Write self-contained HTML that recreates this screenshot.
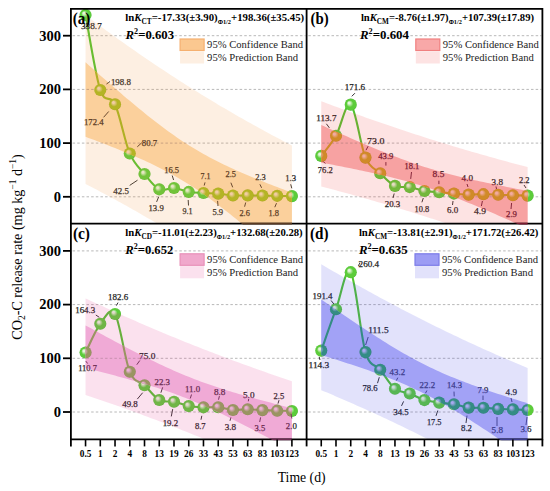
<!DOCTYPE html><html><head><meta charset="utf-8"><style>
html,body{margin:0;padding:0;background:#fff;}
svg{display:block;}
text{font-family:"Liberation Serif",serif;}
</style></head><body>
<svg width="550" height="491" viewBox="0 0 550 491">
<defs>
<radialGradient id="gball" cx="0.5" cy="0.5" r="0.5" fx="0.34" fy="0.33"><stop offset="0" stop-color="#e4f6da"/><stop offset="0.16" stop-color="#e4f6da"/><stop offset="0.56" stop-color="#5ccc3a"/><stop offset="0.9" stop-color="#5ccc3a"/><stop offset="1" stop-color="#46b82a"/></radialGradient>
<radialGradient id="balla" cx="0.5" cy="0.5" r="0.5" fx="0.34" fy="0.33"><stop offset="0" stop-color="#f2cca4"/><stop offset="0.16" stop-color="#f2cca4"/><stop offset="0.56" stop-color="#b4b424"/><stop offset="0.9" stop-color="#b4b424"/><stop offset="1" stop-color="#a8a41c"/></radialGradient>
<radialGradient id="ballb" cx="0.5" cy="0.5" r="0.5" fx="0.34" fy="0.33"><stop offset="0" stop-color="#f2aaa2"/><stop offset="0.16" stop-color="#f2aaa2"/><stop offset="0.56" stop-color="#d08a28"/><stop offset="0.9" stop-color="#d08a28"/><stop offset="1" stop-color="#c07a20"/></radialGradient>
<radialGradient id="ballc" cx="0.5" cy="0.5" r="0.5" fx="0.34" fy="0.33"><stop offset="0" stop-color="#ecaed6"/><stop offset="0.16" stop-color="#ecaed6"/><stop offset="0.56" stop-color="#9a9462"/><stop offset="0.9" stop-color="#9a9462"/><stop offset="1" stop-color="#8a8656"/></radialGradient>
<radialGradient id="balld" cx="0.5" cy="0.5" r="0.5" fx="0.34" fy="0.33"><stop offset="0" stop-color="#a8a8f0"/><stop offset="0.16" stop-color="#a8a8f0"/><stop offset="0.56" stop-color="#348c84"/><stop offset="0.9" stop-color="#348c84"/><stop offset="1" stop-color="#2c7c76"/></radialGradient>
<clipPath id="framea"><rect x="70.9" y="8.9" width="235.70000000000002" height="214.79999999999998"/></clipPath>
<clipPath id="confa"><path d="M85.55,62.37 L88.50,65.00 L91.45,67.62 L94.39,70.23 L97.34,72.84 L100.29,75.44 L103.24,78.03 L106.19,80.61 L109.13,83.19 L112.08,85.75 L115.03,88.30 L117.98,90.84 L120.93,93.37 L123.87,95.88 L126.82,98.38 L129.77,100.87 L132.72,103.33 L135.67,105.78 L138.61,108.21 L141.56,110.62 L144.51,113.01 L147.46,115.38 L150.41,117.72 L153.35,120.03 L156.30,122.32 L159.25,124.58 L162.20,126.80 L165.15,128.99 L168.09,131.15 L171.04,133.27 L173.99,135.36 L176.94,137.40 L179.89,139.41 L182.83,141.38 L185.78,143.30 L188.73,145.18 L191.68,147.02 L194.63,148.82 L197.57,150.58 L200.52,152.29 L203.47,153.97 L206.42,155.61 L209.37,157.21 L212.31,158.77 L215.26,160.30 L218.21,161.80 L221.16,163.27 L224.11,164.70 L227.05,166.11 L230.00,167.49 L232.95,168.85 L235.90,170.18 L238.85,171.50 L241.79,172.79 L244.74,174.06 L247.69,175.32 L250.64,176.55 L253.59,177.78 L256.53,178.99 L259.48,180.18 L262.43,181.36 L265.38,182.53 L268.33,183.69 L271.27,184.84 L274.22,185.98 L277.17,187.11 L280.12,188.24 L283.07,189.35 L286.01,190.46 L288.96,191.56 L291.91,192.66 L291.91,267.09 L288.96,264.46 L286.01,261.84 L283.07,259.23 L280.12,256.62 L277.17,254.02 L274.22,251.43 L271.27,248.85 L268.33,246.27 L265.38,243.71 L262.43,241.16 L259.48,238.62 L256.53,236.09 L253.59,233.58 L250.64,231.08 L247.69,228.59 L244.74,226.13 L241.79,223.68 L238.85,221.25 L235.90,218.84 L232.95,216.45 L230.00,214.08 L227.05,211.74 L224.11,209.43 L221.16,207.14 L218.21,204.88 L215.26,202.66 L212.31,200.47 L209.37,198.31 L206.42,196.19 L203.47,194.10 L200.52,192.06 L197.57,190.05 L194.63,188.08 L191.68,186.16 L188.73,184.28 L185.78,182.44 L182.83,180.64 L179.89,178.88 L176.94,177.17 L173.99,175.49 L171.04,173.85 L168.09,172.25 L165.15,170.69 L162.20,169.16 L159.25,167.66 L156.30,166.19 L153.35,164.76 L150.41,163.35 L147.46,161.97 L144.51,160.61 L141.56,159.28 L138.61,157.96 L135.67,156.67 L132.72,155.40 L129.77,154.15 L126.82,152.91 L123.87,151.68 L120.93,150.48 L117.98,149.28 L115.03,148.10 L112.08,146.93 L109.13,145.77 L106.19,144.62 L103.24,143.48 L100.29,142.35 L97.34,141.22 L94.39,140.11 L91.45,139.00 L88.50,137.90 L85.55,136.81 Z"/></clipPath>
<clipPath id="frameb"><rect x="306.6" y="8.9" width="235.79999999999995" height="214.79999999999998"/></clipPath>
<clipPath id="confb"><path d="M321.25,125.04 L324.20,126.36 L327.15,127.69 L330.09,129.01 L333.04,130.33 L335.99,131.64 L338.94,132.95 L341.89,134.26 L344.83,135.56 L347.78,136.85 L350.73,138.14 L353.68,139.43 L356.63,140.70 L359.57,141.97 L362.52,143.24 L365.47,144.49 L368.42,145.74 L371.37,146.98 L374.31,148.21 L377.26,149.42 L380.21,150.63 L383.16,151.83 L386.11,153.01 L389.05,154.18 L392.00,155.33 L394.95,156.48 L397.90,157.60 L400.85,158.71 L403.79,159.80 L406.74,160.87 L409.69,161.93 L412.64,162.96 L415.59,163.97 L418.53,164.97 L421.48,165.94 L424.43,166.89 L427.38,167.82 L430.33,168.73 L433.27,169.62 L436.22,170.49 L439.17,171.33 L442.12,172.16 L445.07,172.97 L448.01,173.76 L450.96,174.53 L453.91,175.29 L456.86,176.03 L459.81,176.76 L462.75,177.47 L465.70,178.17 L468.65,178.86 L471.60,179.53 L474.55,180.19 L477.49,180.85 L480.44,181.49 L483.39,182.12 L486.34,182.75 L489.29,183.37 L492.23,183.98 L495.18,184.58 L498.13,185.18 L501.08,185.77 L504.03,186.36 L506.97,186.94 L509.92,187.52 L512.87,188.09 L515.82,188.66 L518.77,189.22 L521.71,189.78 L524.66,190.34 L527.61,190.89 L527.61,228.49 L524.66,227.17 L521.71,225.84 L518.77,224.52 L515.82,223.20 L512.87,221.89 L509.92,220.58 L506.97,219.27 L504.03,217.97 L501.08,216.68 L498.13,215.39 L495.18,214.10 L492.23,212.83 L489.29,211.56 L486.34,210.29 L483.39,209.04 L480.44,207.79 L477.49,206.55 L474.55,205.32 L471.60,204.11 L468.65,202.90 L465.70,201.70 L462.75,200.52 L459.81,199.35 L456.86,198.19 L453.91,197.05 L450.96,195.93 L448.01,194.82 L445.07,193.73 L442.12,192.66 L439.17,191.60 L436.22,190.57 L433.27,189.56 L430.33,188.56 L427.38,187.59 L424.43,186.64 L421.48,185.71 L418.53,184.80 L415.59,183.91 L412.64,183.04 L409.69,182.20 L406.74,181.37 L403.79,180.56 L400.85,179.77 L397.90,178.99 L394.95,178.24 L392.00,177.50 L389.05,176.77 L386.11,176.06 L383.16,175.36 L380.21,174.67 L377.26,174.00 L374.31,173.34 L371.37,172.68 L368.42,172.04 L365.47,171.40 L362.52,170.78 L359.57,170.16 L356.63,169.55 L353.68,168.94 L350.73,168.35 L347.78,167.75 L344.83,167.17 L341.89,166.59 L338.94,166.01 L335.99,165.44 L333.04,164.87 L330.09,164.31 L327.15,163.75 L324.20,163.19 L321.25,162.64 Z"/></clipPath>
<clipPath id="framec"><rect x="70.9" y="223.7" width="235.70000000000002" height="215.7"/></clipPath>
<clipPath id="confc"><path d="M85.55,325.38 L88.50,327.00 L91.45,328.62 L94.39,330.23 L97.34,331.84 L100.29,333.45 L103.24,335.05 L106.19,336.64 L109.13,338.23 L112.08,339.81 L115.03,341.39 L117.98,342.96 L120.93,344.53 L123.87,346.08 L126.82,347.63 L129.77,349.17 L132.72,350.70 L135.67,352.22 L138.61,353.72 L141.56,355.22 L144.51,356.70 L147.46,358.18 L150.41,359.63 L153.35,361.07 L156.30,362.50 L159.25,363.91 L162.20,365.30 L165.15,366.67 L168.09,368.02 L171.04,369.35 L173.99,370.66 L176.94,371.95 L179.89,373.22 L182.83,374.46 L185.78,375.68 L188.73,376.87 L191.68,378.04 L194.63,379.19 L197.57,380.31 L200.52,381.41 L203.47,382.49 L206.42,383.54 L209.37,384.58 L212.31,385.59 L215.26,386.58 L218.21,387.56 L221.16,388.51 L224.11,389.45 L227.05,390.38 L230.00,391.28 L232.95,392.18 L235.90,393.06 L238.85,393.93 L241.79,394.79 L244.74,395.63 L247.69,396.47 L250.64,397.29 L253.59,398.11 L256.53,398.92 L259.48,399.72 L262.43,400.52 L265.38,401.30 L268.33,402.09 L271.27,402.86 L274.22,403.63 L277.17,404.40 L280.12,405.16 L283.07,405.91 L286.01,406.66 L288.96,407.41 L291.91,408.15 L291.91,450.72 L288.96,449.10 L286.01,447.48 L283.07,445.87 L280.12,444.26 L277.17,442.65 L274.22,441.05 L271.27,439.46 L268.33,437.87 L265.38,436.28 L262.43,434.71 L259.48,433.14 L256.53,431.57 L253.59,430.02 L250.64,428.47 L247.69,426.93 L244.74,425.40 L241.79,423.88 L238.85,422.38 L235.90,420.88 L232.95,419.39 L230.00,417.92 L227.05,416.47 L224.11,415.03 L221.16,413.60 L218.21,412.19 L215.26,410.80 L212.31,409.43 L209.37,408.08 L206.42,406.75 L203.47,405.44 L200.52,404.15 L197.57,402.88 L194.63,401.64 L191.68,400.42 L188.73,399.23 L185.78,398.06 L182.83,396.91 L179.89,395.79 L176.94,394.69 L173.99,393.61 L171.04,392.56 L168.09,391.52 L165.15,390.51 L162.20,389.52 L159.25,388.54 L156.30,387.59 L153.35,386.65 L150.41,385.72 L147.46,384.81 L144.51,383.92 L141.56,383.04 L138.61,382.17 L135.67,381.31 L132.72,380.47 L129.77,379.63 L126.82,378.81 L123.87,377.99 L120.93,377.18 L117.98,376.38 L115.03,375.58 L112.08,374.80 L109.13,374.01 L106.19,373.24 L103.24,372.47 L100.29,371.70 L97.34,370.94 L94.39,370.19 L91.45,369.44 L88.50,368.69 L85.55,367.94 Z"/></clipPath>
<clipPath id="framed"><rect x="306.6" y="223.7" width="235.79999999999995" height="215.7"/></clipPath>
<clipPath id="confd"><path d="M321.25,299.43 L324.20,301.49 L327.15,303.54 L330.09,305.58 L333.04,307.62 L335.99,309.66 L338.94,311.69 L341.89,313.71 L344.83,315.72 L347.78,317.73 L350.73,319.73 L353.68,321.72 L356.63,323.70 L359.57,325.67 L362.52,327.62 L365.47,329.57 L368.42,331.51 L371.37,333.43 L374.31,335.34 L377.26,337.23 L380.21,339.11 L383.16,340.97 L386.11,342.81 L389.05,344.63 L392.00,346.43 L394.95,348.21 L397.90,349.96 L400.85,351.69 L403.79,353.40 L406.74,355.08 L409.69,356.73 L412.64,358.35 L415.59,359.94 L418.53,361.50 L421.48,363.03 L424.43,364.53 L427.38,366.00 L430.33,367.43 L433.27,368.84 L436.22,370.21 L439.17,371.56 L442.12,372.88 L445.07,374.16 L448.01,375.43 L450.96,376.66 L453.91,377.87 L456.86,379.06 L459.81,380.23 L462.75,381.37 L465.70,382.50 L468.65,383.60 L471.60,384.69 L474.55,385.77 L477.49,386.83 L480.44,387.87 L483.39,388.90 L486.34,389.92 L489.29,390.93 L492.23,391.92 L495.18,392.91 L498.13,393.89 L501.08,394.85 L504.03,395.81 L506.97,396.77 L509.92,397.71 L512.87,398.65 L515.82,399.58 L518.77,400.51 L521.71,401.43 L524.66,402.34 L527.61,403.26 L527.61,458.80 L524.66,456.74 L521.71,454.69 L518.77,452.65 L515.82,450.61 L512.87,448.57 L509.92,446.54 L506.97,444.52 L504.03,442.51 L501.08,440.50 L498.13,438.50 L495.18,436.51 L492.23,434.53 L489.29,432.56 L486.34,430.60 L483.39,428.66 L480.44,426.72 L477.49,424.80 L474.55,422.89 L471.60,421.00 L468.65,419.12 L465.70,417.26 L462.75,415.42 L459.81,413.60 L456.86,411.80 L453.91,410.02 L450.96,408.26 L448.01,406.53 L445.07,404.83 L442.12,403.15 L439.17,401.50 L436.22,399.88 L433.27,398.29 L430.33,396.73 L427.38,395.20 L424.43,393.70 L421.48,392.23 L418.53,390.80 L415.59,389.39 L412.64,388.02 L409.69,386.67 L406.74,385.35 L403.79,384.06 L400.85,382.80 L397.90,381.57 L394.95,380.36 L392.00,379.17 L389.05,378.00 L386.11,376.86 L383.16,375.73 L380.21,374.62 L377.26,373.53 L374.31,372.46 L371.37,371.40 L368.42,370.36 L365.47,369.33 L362.52,368.31 L359.57,367.30 L356.63,366.31 L353.68,365.32 L350.73,364.34 L347.78,363.38 L344.83,362.42 L341.89,361.46 L338.94,360.52 L335.99,359.58 L333.04,358.65 L330.09,357.72 L327.15,356.80 L324.20,355.88 L321.25,354.97 Z"/></clipPath>
</defs>
<rect width="550" height="491" fill="#fff"/>
<line x1="71.9" y1="196.80" x2="305.6" y2="196.80" stroke="#b8b8b8" stroke-width="1" stroke-dasharray="2.5 2.14" stroke-dashoffset="-0.7"/>
<line x1="71.9" y1="143.10" x2="305.6" y2="143.10" stroke="#b8b8b8" stroke-width="1" stroke-dasharray="2.5 2.14" stroke-dashoffset="-0.7"/>
<line x1="71.9" y1="89.40" x2="305.6" y2="89.40" stroke="#b8b8b8" stroke-width="1" stroke-dasharray="2.5 2.14" stroke-dashoffset="-0.7"/>
<line x1="71.9" y1="35.70" x2="305.6" y2="35.70" stroke="#b8b8b8" stroke-width="1" stroke-dasharray="2.5 2.14" stroke-dashoffset="-0.7"/>
<path d="M85.55,14.92 C88.01,27.44 95.38,75.16 100.29,90.04 C105.20,104.93 110.12,93.65 115.03,104.22 C119.94,114.79 124.86,141.84 129.77,153.46 C134.68,165.09 139.60,168.00 144.51,173.98 C149.42,179.96 154.34,187.01 159.25,189.34 C164.16,191.66 169.08,187.51 173.99,187.94 C178.90,188.37 183.82,191.07 188.73,191.91 C193.64,192.75 198.56,192.70 203.47,192.99 C208.38,193.27 213.30,193.22 218.21,193.63 C223.12,194.04 228.04,195.16 232.95,195.46 C237.86,195.75 242.78,195.39 247.69,195.40 C252.60,195.42 257.52,195.49 262.43,195.56 C267.34,195.64 272.26,195.74 277.17,195.83 C282.08,195.92 289.45,196.06 291.91,196.10" fill="none" stroke="#52c530" stroke-width="2.1"/>
<circle cx="85.55" cy="14.92" r="6.05" fill="url(#gball)"/>
<circle cx="100.29" cy="90.04" r="6.05" fill="url(#gball)"/>
<circle cx="115.03" cy="104.22" r="6.05" fill="url(#gball)"/>
<circle cx="129.77" cy="153.46" r="6.05" fill="url(#gball)"/>
<circle cx="144.51" cy="173.98" r="6.05" fill="url(#gball)"/>
<circle cx="159.25" cy="189.34" r="6.05" fill="url(#gball)"/>
<circle cx="173.99" cy="187.94" r="6.05" fill="url(#gball)"/>
<circle cx="188.73" cy="191.91" r="6.05" fill="url(#gball)"/>
<circle cx="203.47" cy="192.99" r="6.05" fill="url(#gball)"/>
<circle cx="218.21" cy="193.63" r="6.05" fill="url(#gball)"/>
<circle cx="232.95" cy="195.46" r="6.05" fill="url(#gball)"/>
<circle cx="247.69" cy="195.40" r="6.05" fill="url(#gball)"/>
<circle cx="262.43" cy="195.56" r="6.05" fill="url(#gball)"/>
<circle cx="277.17" cy="195.83" r="6.05" fill="url(#gball)"/>
<circle cx="291.91" cy="196.10" r="6.05" fill="url(#gball)"/>
<text x="81" y="29.2" font-size="9.1" fill="#1e1e1e" stroke="#1e1e1e" stroke-width="0.25" textLength="20.8" lengthAdjust="spacingAndGlyphs">338.7</text>
<text x="110.9" y="84.9" font-size="9.1" fill="#1e1e1e" stroke="#1e1e1e" stroke-width="0.25" textLength="20.0" lengthAdjust="spacingAndGlyphs">198.8</text>
<line x1="106.5" y1="84" x2="110" y2="81.5" stroke="#1e1e1e" stroke-width="0.9"/>
<text x="84" y="124.9" font-size="9.1" fill="#1e1e1e" stroke="#1e1e1e" stroke-width="0.25" textLength="19.6" lengthAdjust="spacingAndGlyphs">172.4</text>
<line x1="103.6" y1="117.3" x2="108.7" y2="111.5" stroke="#1e1e1e" stroke-width="0.9"/>
<text x="141.8" y="145.9" font-size="9.1" fill="#1e1e1e" stroke="#1e1e1e" stroke-width="0.25" textLength="15.5" lengthAdjust="spacingAndGlyphs">80.7</text>
<line x1="137.3" y1="146.8" x2="141.8" y2="142.7" stroke="#1e1e1e" stroke-width="0.9"/>
<text x="113.3" y="193.7" font-size="9.1" fill="#1e1e1e" stroke="#1e1e1e" stroke-width="0.25" textLength="15.6" lengthAdjust="spacingAndGlyphs">42.5</text>
<line x1="129.7" y1="185.4" x2="137.5" y2="180.2" stroke="#1e1e1e" stroke-width="0.9"/>
<text x="148.5" y="210.5" font-size="9.1" fill="#1e1e1e" stroke="#1e1e1e" stroke-width="0.25" textLength="15.3" lengthAdjust="spacingAndGlyphs">13.9</text>
<line x1="156.6" y1="201.9" x2="158.7" y2="196.8" stroke="#1e1e1e" stroke-width="0.9"/>
<text x="164.2" y="172.7" font-size="9.1" fill="#1e1e1e" stroke="#1e1e1e" stroke-width="0.25" textLength="14.9" lengthAdjust="spacingAndGlyphs">16.5</text>
<line x1="172.2" y1="175.5" x2="173.6" y2="180" stroke="#1e1e1e" stroke-width="0.9"/>
<text x="182.5" y="214.2" font-size="9.1" fill="#1e1e1e" stroke="#1e1e1e" stroke-width="0.25" textLength="10.2" lengthAdjust="spacingAndGlyphs">9.1</text>
<line x1="188.2" y1="200" x2="188.5" y2="205.5" stroke="#1e1e1e" stroke-width="0.9"/>
<text x="200.5" y="179" font-size="9.1" fill="#1e1e1e" stroke="#1e1e1e" stroke-width="0.25" textLength="10.0" lengthAdjust="spacingAndGlyphs">7.1</text>
<line x1="205" y1="182.4" x2="204.2" y2="185.5" stroke="#1e1e1e" stroke-width="0.9"/>
<text x="212.4" y="215.4" font-size="9.1" fill="#1e1e1e" stroke="#1e1e1e" stroke-width="0.25" textLength="10.8" lengthAdjust="spacingAndGlyphs">5.9</text>
<line x1="217.6" y1="200.9" x2="218" y2="206" stroke="#1e1e1e" stroke-width="0.9"/>
<text x="225.5" y="177.3" font-size="9.1" fill="#1e1e1e" stroke="#1e1e1e" stroke-width="0.25" textLength="10.5" lengthAdjust="spacingAndGlyphs">2.5</text>
<line x1="230.9" y1="182.7" x2="232.7" y2="187.3" stroke="#1e1e1e" stroke-width="0.9"/>
<text x="239.4" y="215.7" font-size="9.1" fill="#1e1e1e" stroke="#1e1e1e" stroke-width="0.25" textLength="10.4" lengthAdjust="spacingAndGlyphs">2.6</text>
<line x1="245.7" y1="202.5" x2="244.6" y2="206.7" stroke="#1e1e1e" stroke-width="0.9"/>
<text x="255.2" y="179.6" font-size="9.1" fill="#1e1e1e" stroke="#1e1e1e" stroke-width="0.25" textLength="10.6" lengthAdjust="spacingAndGlyphs">2.3</text>
<line x1="259.9" y1="184.3" x2="261.6" y2="187.8" stroke="#1e1e1e" stroke-width="0.9"/>
<text x="268.5" y="216" font-size="9.1" fill="#1e1e1e" stroke="#1e1e1e" stroke-width="0.25" textLength="10.5" lengthAdjust="spacingAndGlyphs">1.8</text>
<line x1="276.5" y1="203.2" x2="274.8" y2="207.2" stroke="#1e1e1e" stroke-width="0.9"/>
<text x="285.2" y="181.2" font-size="9.1" fill="#1e1e1e" stroke="#1e1e1e" stroke-width="0.25" textLength="10.9" lengthAdjust="spacingAndGlyphs">1.3</text>
<line x1="290.7" y1="184.3" x2="291.8" y2="188.3" stroke="#1e1e1e" stroke-width="0.9"/>
<g clip-path="url(#framea)">
<path d="M85.55,15.22 L88.50,17.42 L91.45,19.61 L94.39,21.79 L97.34,23.96 L100.29,26.12 L103.24,28.28 L106.19,30.42 L109.13,32.56 L112.08,34.68 L115.03,36.80 L117.98,38.91 L120.93,41.01 L123.87,43.10 L126.82,45.18 L129.77,47.25 L132.72,49.31 L135.67,51.36 L138.61,53.40 L141.56,55.43 L144.51,57.45 L147.46,59.46 L150.41,61.46 L153.35,63.45 L156.30,65.43 L159.25,67.40 L162.20,69.36 L165.15,71.31 L168.09,73.25 L171.04,75.18 L173.99,77.10 L176.94,79.01 L179.89,80.91 L182.83,82.79 L185.78,84.67 L188.73,86.54 L191.68,88.39 L194.63,90.24 L197.57,92.07 L200.52,93.90 L203.47,95.71 L206.42,97.52 L209.37,99.31 L212.31,101.09 L215.26,102.87 L218.21,104.63 L221.16,106.38 L224.11,108.12 L227.05,109.85 L230.00,111.58 L232.95,113.29 L235.90,114.99 L238.85,116.68 L241.79,118.36 L244.74,120.03 L247.69,121.70 L250.64,123.35 L253.59,124.99 L256.53,126.62 L259.48,128.25 L262.43,129.86 L265.38,131.47 L268.33,133.06 L271.27,134.65 L274.22,136.23 L277.17,137.80 L280.12,139.36 L283.07,140.91 L286.01,142.45 L288.96,143.98 L291.91,145.51 L291.91,314.24 L288.96,312.04 L286.01,309.85 L283.07,307.67 L280.12,305.50 L277.17,303.34 L274.22,301.19 L271.27,299.04 L268.33,296.90 L265.38,294.78 L262.43,292.66 L259.48,290.55 L256.53,288.45 L253.59,286.36 L250.64,284.29 L247.69,282.22 L244.74,280.15 L241.79,278.10 L238.85,276.06 L235.90,274.03 L232.95,272.01 L230.00,270.00 L227.05,268.00 L224.11,266.01 L221.16,264.03 L218.21,262.06 L215.26,260.10 L212.31,258.15 L209.37,256.21 L206.42,254.28 L203.47,252.36 L200.52,250.45 L197.57,248.55 L194.63,246.67 L191.68,244.79 L188.73,242.92 L185.78,241.07 L182.83,239.22 L179.89,237.39 L176.94,235.56 L173.99,233.75 L171.04,231.94 L168.09,230.15 L165.15,228.37 L162.20,226.59 L159.25,224.83 L156.30,223.08 L153.35,221.34 L150.41,219.61 L147.46,217.89 L144.51,216.17 L141.56,214.47 L138.61,212.78 L135.67,211.10 L132.72,209.43 L129.77,207.77 L126.82,206.11 L123.87,204.47 L120.93,202.84 L117.98,201.21 L115.03,199.60 L112.08,197.99 L109.13,196.40 L106.19,194.81 L103.24,193.23 L100.29,191.66 L97.34,190.10 L94.39,188.55 L91.45,187.01 L88.50,185.48 L85.55,183.95 Z" fill="rgb(242,148,62)" fill-opacity="0.15"/>
<g clip-path="url(#confa)">
<rect x="0" y="0" width="550" height="491" fill="#fbd09c"/>
<line x1="71.9" y1="196.80" x2="305.6" y2="196.80" stroke="#c8a080" stroke-width="1" stroke-dasharray="2.5 2.14" stroke-dashoffset="-0.7"/>
<line x1="71.9" y1="143.10" x2="305.6" y2="143.10" stroke="#c8a080" stroke-width="1" stroke-dasharray="2.5 2.14" stroke-dashoffset="-0.7"/>
<line x1="71.9" y1="89.40" x2="305.6" y2="89.40" stroke="#c8a080" stroke-width="1" stroke-dasharray="2.5 2.14" stroke-dashoffset="-0.7"/>
<line x1="71.9" y1="35.70" x2="305.6" y2="35.70" stroke="#c8a080" stroke-width="1" stroke-dasharray="2.5 2.14" stroke-dashoffset="-0.7"/>
<path d="M85.55,14.92 C88.01,27.44 95.38,75.16 100.29,90.04 C105.20,104.93 110.12,93.65 115.03,104.22 C119.94,114.79 124.86,141.84 129.77,153.46 C134.68,165.09 139.60,168.00 144.51,173.98 C149.42,179.96 154.34,187.01 159.25,189.34 C164.16,191.66 169.08,187.51 173.99,187.94 C178.90,188.37 183.82,191.07 188.73,191.91 C193.64,192.75 198.56,192.70 203.47,192.99 C208.38,193.27 213.30,193.22 218.21,193.63 C223.12,194.04 228.04,195.16 232.95,195.46 C237.86,195.75 242.78,195.39 247.69,195.40 C252.60,195.42 257.52,195.49 262.43,195.56 C267.34,195.64 272.26,195.74 277.17,195.83 C282.08,195.92 289.45,196.06 291.91,196.10" fill="none" stroke="#b0b024" stroke-width="2.1"/>
<circle cx="85.55" cy="14.92" r="6.05" fill="url(#balla)"/>
<circle cx="100.29" cy="90.04" r="6.05" fill="url(#balla)"/>
<circle cx="115.03" cy="104.22" r="6.05" fill="url(#balla)"/>
<circle cx="129.77" cy="153.46" r="6.05" fill="url(#balla)"/>
<circle cx="144.51" cy="173.98" r="6.05" fill="url(#balla)"/>
<circle cx="159.25" cy="189.34" r="6.05" fill="url(#balla)"/>
<circle cx="173.99" cy="187.94" r="6.05" fill="url(#balla)"/>
<circle cx="188.73" cy="191.91" r="6.05" fill="url(#balla)"/>
<circle cx="203.47" cy="192.99" r="6.05" fill="url(#balla)"/>
<circle cx="218.21" cy="193.63" r="6.05" fill="url(#balla)"/>
<circle cx="232.95" cy="195.46" r="6.05" fill="url(#balla)"/>
<circle cx="247.69" cy="195.40" r="6.05" fill="url(#balla)"/>
<circle cx="262.43" cy="195.56" r="6.05" fill="url(#balla)"/>
<circle cx="277.17" cy="195.83" r="6.05" fill="url(#balla)"/>
<circle cx="291.91" cy="196.10" r="6.05" fill="url(#balla)"/>
<text x="81" y="29.2" font-size="9.1" fill="#5a3a22" stroke="#5a3a22" stroke-width="0.25" textLength="20.8" lengthAdjust="spacingAndGlyphs">338.7</text>
<text x="110.9" y="84.9" font-size="9.1" fill="#5a3a22" stroke="#5a3a22" stroke-width="0.25" textLength="20.0" lengthAdjust="spacingAndGlyphs">198.8</text>
<line x1="106.5" y1="84" x2="110" y2="81.5" stroke="#5a3a22" stroke-width="0.9"/>
<text x="84" y="124.9" font-size="9.1" fill="#5a3a22" stroke="#5a3a22" stroke-width="0.25" textLength="19.6" lengthAdjust="spacingAndGlyphs">172.4</text>
<line x1="103.6" y1="117.3" x2="108.7" y2="111.5" stroke="#5a3a22" stroke-width="0.9"/>
<text x="141.8" y="145.9" font-size="9.1" fill="#5a3a22" stroke="#5a3a22" stroke-width="0.25" textLength="15.5" lengthAdjust="spacingAndGlyphs">80.7</text>
<line x1="137.3" y1="146.8" x2="141.8" y2="142.7" stroke="#5a3a22" stroke-width="0.9"/>
<text x="113.3" y="193.7" font-size="9.1" fill="#5a3a22" stroke="#5a3a22" stroke-width="0.25" textLength="15.6" lengthAdjust="spacingAndGlyphs">42.5</text>
<line x1="129.7" y1="185.4" x2="137.5" y2="180.2" stroke="#5a3a22" stroke-width="0.9"/>
<text x="148.5" y="210.5" font-size="9.1" fill="#5a3a22" stroke="#5a3a22" stroke-width="0.25" textLength="15.3" lengthAdjust="spacingAndGlyphs">13.9</text>
<line x1="156.6" y1="201.9" x2="158.7" y2="196.8" stroke="#5a3a22" stroke-width="0.9"/>
<text x="164.2" y="172.7" font-size="9.1" fill="#5a3a22" stroke="#5a3a22" stroke-width="0.25" textLength="14.9" lengthAdjust="spacingAndGlyphs">16.5</text>
<line x1="172.2" y1="175.5" x2="173.6" y2="180" stroke="#5a3a22" stroke-width="0.9"/>
<text x="182.5" y="214.2" font-size="9.1" fill="#5a3a22" stroke="#5a3a22" stroke-width="0.25" textLength="10.2" lengthAdjust="spacingAndGlyphs">9.1</text>
<line x1="188.2" y1="200" x2="188.5" y2="205.5" stroke="#5a3a22" stroke-width="0.9"/>
<text x="200.5" y="179" font-size="9.1" fill="#5a3a22" stroke="#5a3a22" stroke-width="0.25" textLength="10.0" lengthAdjust="spacingAndGlyphs">7.1</text>
<line x1="205" y1="182.4" x2="204.2" y2="185.5" stroke="#5a3a22" stroke-width="0.9"/>
<text x="212.4" y="215.4" font-size="9.1" fill="#5a3a22" stroke="#5a3a22" stroke-width="0.25" textLength="10.8" lengthAdjust="spacingAndGlyphs">5.9</text>
<line x1="217.6" y1="200.9" x2="218" y2="206" stroke="#5a3a22" stroke-width="0.9"/>
<text x="225.5" y="177.3" font-size="9.1" fill="#5a3a22" stroke="#5a3a22" stroke-width="0.25" textLength="10.5" lengthAdjust="spacingAndGlyphs">2.5</text>
<line x1="230.9" y1="182.7" x2="232.7" y2="187.3" stroke="#5a3a22" stroke-width="0.9"/>
<text x="239.4" y="215.7" font-size="9.1" fill="#5a3a22" stroke="#5a3a22" stroke-width="0.25" textLength="10.4" lengthAdjust="spacingAndGlyphs">2.6</text>
<line x1="245.7" y1="202.5" x2="244.6" y2="206.7" stroke="#5a3a22" stroke-width="0.9"/>
<text x="255.2" y="179.6" font-size="9.1" fill="#5a3a22" stroke="#5a3a22" stroke-width="0.25" textLength="10.6" lengthAdjust="spacingAndGlyphs">2.3</text>
<line x1="259.9" y1="184.3" x2="261.6" y2="187.8" stroke="#5a3a22" stroke-width="0.9"/>
<text x="268.5" y="216" font-size="9.1" fill="#5a3a22" stroke="#5a3a22" stroke-width="0.25" textLength="10.5" lengthAdjust="spacingAndGlyphs">1.8</text>
<line x1="276.5" y1="203.2" x2="274.8" y2="207.2" stroke="#5a3a22" stroke-width="0.9"/>
<text x="285.2" y="181.2" font-size="9.1" fill="#5a3a22" stroke="#5a3a22" stroke-width="0.25" textLength="10.9" lengthAdjust="spacingAndGlyphs">1.3</text>
<line x1="290.7" y1="184.3" x2="291.8" y2="188.3" stroke="#5a3a22" stroke-width="0.9"/>
</g></g>
<line x1="307.6" y1="196.80" x2="541.4" y2="196.80" stroke="#b8b8b8" stroke-width="1" stroke-dasharray="2.5 2.14" stroke-dashoffset="-0.7"/>
<line x1="307.6" y1="143.10" x2="541.4" y2="143.10" stroke="#b8b8b8" stroke-width="1" stroke-dasharray="2.5 2.14" stroke-dashoffset="-0.7"/>
<line x1="307.6" y1="89.40" x2="541.4" y2="89.40" stroke="#b8b8b8" stroke-width="1" stroke-dasharray="2.5 2.14" stroke-dashoffset="-0.7"/>
<line x1="307.6" y1="35.70" x2="541.4" y2="35.70" stroke="#b8b8b8" stroke-width="1" stroke-dasharray="2.5 2.14" stroke-dashoffset="-0.7"/>
<path d="M321.25,155.88 C323.71,152.52 331.08,144.28 335.99,135.74 C340.90,127.20 345.82,101.01 350.73,104.65 C355.64,108.29 360.56,146.17 365.47,157.60 C370.38,169.03 375.30,168.51 380.21,173.23 C385.12,177.94 390.04,183.59 394.95,185.90 C399.86,188.21 404.78,186.23 409.69,187.08 C414.60,187.93 419.52,190.14 424.43,191.00 C429.34,191.86 434.26,191.81 439.17,192.24 C444.08,192.67 449.00,193.18 453.91,193.58 C458.82,193.98 463.74,194.55 468.65,194.65 C473.56,194.75 478.48,194.15 483.39,194.17 C488.30,194.19 493.22,194.58 498.13,194.76 C503.04,194.94 507.96,195.10 512.87,195.24 C517.78,195.39 525.15,195.56 527.61,195.62" fill="none" stroke="#52c530" stroke-width="2.1"/>
<circle cx="321.25" cy="155.88" r="6.05" fill="url(#gball)"/>
<circle cx="335.99" cy="135.74" r="6.05" fill="url(#gball)"/>
<circle cx="350.73" cy="104.65" r="6.05" fill="url(#gball)"/>
<circle cx="365.47" cy="157.60" r="6.05" fill="url(#gball)"/>
<circle cx="380.21" cy="173.23" r="6.05" fill="url(#gball)"/>
<circle cx="394.95" cy="185.90" r="6.05" fill="url(#gball)"/>
<circle cx="409.69" cy="187.08" r="6.05" fill="url(#gball)"/>
<circle cx="424.43" cy="191.00" r="6.05" fill="url(#gball)"/>
<circle cx="439.17" cy="192.24" r="6.05" fill="url(#gball)"/>
<circle cx="453.91" cy="193.58" r="6.05" fill="url(#gball)"/>
<circle cx="468.65" cy="194.65" r="6.05" fill="url(#gball)"/>
<circle cx="483.39" cy="194.17" r="6.05" fill="url(#gball)"/>
<circle cx="498.13" cy="194.76" r="6.05" fill="url(#gball)"/>
<circle cx="512.87" cy="195.24" r="6.05" fill="url(#gball)"/>
<circle cx="527.61" cy="195.62" r="6.05" fill="url(#gball)"/>
<text x="317.8" y="172.7" font-size="9.1" fill="#1e1e1e" stroke="#1e1e1e" stroke-width="0.25" textLength="15.1" lengthAdjust="spacingAndGlyphs">76.2</text>
<line x1="323.3" y1="161.5" x2="325.3" y2="163.5" stroke="#1e1e1e" stroke-width="0.9"/>
<text x="316.2" y="120.7" font-size="9.1" fill="#1e1e1e" stroke="#1e1e1e" stroke-width="0.25" textLength="20.3" lengthAdjust="spacingAndGlyphs">113.7</text>
<line x1="326.4" y1="123.8" x2="329.4" y2="127.9" stroke="#1e1e1e" stroke-width="0.9"/>
<text x="344.7" y="90.2" font-size="9.1" fill="#1e1e1e" stroke="#1e1e1e" stroke-width="0.25" textLength="20.3" lengthAdjust="spacingAndGlyphs">171.6</text>
<line x1="351.8" y1="96.3" x2="354.9" y2="93.2" stroke="#1e1e1e" stroke-width="0.9"/>
<text x="367.1" y="143.5" font-size="9.1" fill="#1e1e1e" stroke="#1e1e1e" stroke-width="0.25" textLength="17.3" lengthAdjust="spacingAndGlyphs">73.0</text>
<line x1="366" y1="150.2" x2="368.1" y2="146.2" stroke="#1e1e1e" stroke-width="0.9"/>
<text x="378.3" y="159.4" font-size="9.1" fill="#1e1e1e" stroke="#1e1e1e" stroke-width="0.25" textLength="15.1" lengthAdjust="spacingAndGlyphs">43.9</text>
<line x1="385.9" y1="162.1" x2="385.9" y2="165.6" stroke="#1e1e1e" stroke-width="0.9"/>
<text x="384.7" y="206.6" font-size="9.1" fill="#1e1e1e" stroke="#1e1e1e" stroke-width="0.25" textLength="15.6" lengthAdjust="spacingAndGlyphs">20.3</text>
<line x1="394.2" y1="193.5" x2="393" y2="198" stroke="#1e1e1e" stroke-width="0.9"/>
<text x="404.6" y="168.5" font-size="9.1" fill="#1e1e1e" stroke="#1e1e1e" stroke-width="0.25" textLength="14.7" lengthAdjust="spacingAndGlyphs">18.1</text>
<line x1="411.5" y1="172" x2="410.7" y2="178.9" stroke="#1e1e1e" stroke-width="0.9"/>
<text x="414.6" y="211.8" font-size="9.1" fill="#1e1e1e" stroke="#1e1e1e" stroke-width="0.25" textLength="14.6" lengthAdjust="spacingAndGlyphs">10.8</text>
<line x1="423.3" y1="198" x2="421.9" y2="202.3" stroke="#1e1e1e" stroke-width="0.9"/>
<text x="432.6" y="177.2" font-size="9.1" fill="#1e1e1e" stroke="#1e1e1e" stroke-width="0.25" textLength="11.8" lengthAdjust="spacingAndGlyphs">8.5</text>
<line x1="438.9" y1="180.7" x2="438.9" y2="184.1" stroke="#1e1e1e" stroke-width="0.9"/>
<text x="447" y="213" font-size="9.1" fill="#1e1e1e" stroke="#1e1e1e" stroke-width="0.25" textLength="11.2" lengthAdjust="spacingAndGlyphs">6.0</text>
<line x1="453" y1="201" x2="452.5" y2="205" stroke="#1e1e1e" stroke-width="0.9"/>
<text x="461.6" y="181" font-size="9.1" fill="#1e1e1e" stroke="#1e1e1e" stroke-width="0.25" textLength="11.4" lengthAdjust="spacingAndGlyphs">4.0</text>
<line x1="467" y1="184" x2="468" y2="187" stroke="#1e1e1e" stroke-width="0.9"/>
<text x="474" y="214.4" font-size="9.1" fill="#1e1e1e" stroke="#1e1e1e" stroke-width="0.25" textLength="12.0" lengthAdjust="spacingAndGlyphs">4.9</text>
<line x1="482.4" y1="201" x2="481.4" y2="206" stroke="#1e1e1e" stroke-width="0.9"/>
<text x="491.6" y="185" font-size="9.1" fill="#1e1e1e" stroke="#1e1e1e" stroke-width="0.25" textLength="11.4" lengthAdjust="spacingAndGlyphs">3.8</text>
<line x1="496" y1="186.5" x2="496.5" y2="189" stroke="#1e1e1e" stroke-width="0.9"/>
<text x="506" y="217" font-size="9.1" fill="#1e1e1e" stroke="#1e1e1e" stroke-width="0.25" textLength="11.0" lengthAdjust="spacingAndGlyphs">2.9</text>
<line x1="511.6" y1="203" x2="511" y2="209" stroke="#1e1e1e" stroke-width="0.9"/>
<text x="519" y="183.3" font-size="9.1" fill="#1e1e1e" stroke="#1e1e1e" stroke-width="0.25" textLength="10.6" lengthAdjust="spacingAndGlyphs">2.2</text>
<line x1="524" y1="185" x2="526" y2="188" stroke="#1e1e1e" stroke-width="0.9"/>
<g clip-path="url(#frameb)">
<path d="M321.25,101.22 L324.20,102.33 L327.15,103.44 L330.09,104.54 L333.04,105.64 L335.99,106.73 L338.94,107.82 L341.89,108.90 L344.83,109.98 L347.78,111.06 L350.73,112.13 L353.68,113.19 L356.63,114.25 L359.57,115.31 L362.52,116.36 L365.47,117.41 L368.42,118.45 L371.37,119.48 L374.31,120.52 L377.26,121.54 L380.21,122.56 L383.16,123.58 L386.11,124.59 L389.05,125.60 L392.00,126.60 L394.95,127.60 L397.90,128.59 L400.85,129.57 L403.79,130.55 L406.74,131.53 L409.69,132.50 L412.64,133.46 L415.59,134.42 L418.53,135.37 L421.48,136.32 L424.43,137.27 L427.38,138.21 L430.33,139.14 L433.27,140.07 L436.22,140.99 L439.17,141.91 L442.12,142.82 L445.07,143.72 L448.01,144.62 L450.96,145.52 L453.91,146.41 L456.86,147.30 L459.81,148.18 L462.75,149.05 L465.70,149.92 L468.65,150.79 L471.60,151.65 L474.55,152.50 L477.49,153.35 L480.44,154.20 L483.39,155.04 L486.34,155.87 L489.29,156.71 L492.23,157.53 L495.18,158.35 L498.13,159.17 L501.08,159.98 L504.03,160.79 L506.97,161.59 L509.92,162.39 L512.87,163.18 L515.82,163.97 L518.77,164.75 L521.71,165.53 L524.66,166.31 L527.61,167.08 L527.61,252.31 L524.66,251.20 L521.71,250.09 L518.77,248.99 L515.82,247.89 L512.87,246.80 L509.92,245.71 L506.97,244.63 L504.03,243.55 L501.08,242.47 L498.13,241.40 L495.18,240.34 L492.23,239.28 L489.29,238.22 L486.34,237.17 L483.39,236.12 L480.44,235.08 L477.49,234.04 L474.55,233.01 L471.60,231.99 L468.65,230.96 L465.70,229.95 L462.75,228.94 L459.81,227.93 L456.86,226.93 L453.91,225.93 L450.96,224.94 L448.01,223.96 L445.07,222.98 L442.12,222.00 L439.17,221.03 L436.22,220.07 L433.27,219.11 L430.33,218.15 L427.38,217.21 L424.43,216.26 L421.48,215.32 L418.53,214.39 L415.59,213.46 L412.64,212.54 L409.69,211.62 L406.74,210.71 L403.79,209.81 L400.85,208.90 L397.90,208.01 L394.95,207.12 L392.00,206.23 L389.05,205.35 L386.11,204.48 L383.16,203.61 L380.21,202.74 L377.26,201.88 L374.31,201.03 L371.37,200.17 L368.42,199.33 L365.47,198.49 L362.52,197.65 L359.57,196.82 L356.63,196.00 L353.68,195.18 L350.73,194.36 L347.78,193.55 L344.83,192.74 L341.89,191.94 L338.94,191.14 L335.99,190.35 L333.04,189.56 L330.09,188.78 L327.15,188.00 L324.20,187.22 L321.25,186.45 Z" fill="rgb(242,68,68)" fill-opacity="0.15"/>
<g clip-path="url(#confb)">
<rect x="0" y="0" width="550" height="491" fill="#f7a2a2"/>
<line x1="307.6" y1="196.80" x2="541.4" y2="196.80" stroke="#c88888" stroke-width="1" stroke-dasharray="2.5 2.14" stroke-dashoffset="-0.7"/>
<line x1="307.6" y1="143.10" x2="541.4" y2="143.10" stroke="#c88888" stroke-width="1" stroke-dasharray="2.5 2.14" stroke-dashoffset="-0.7"/>
<line x1="307.6" y1="89.40" x2="541.4" y2="89.40" stroke="#c88888" stroke-width="1" stroke-dasharray="2.5 2.14" stroke-dashoffset="-0.7"/>
<line x1="307.6" y1="35.70" x2="541.4" y2="35.70" stroke="#c88888" stroke-width="1" stroke-dasharray="2.5 2.14" stroke-dashoffset="-0.7"/>
<path d="M321.25,155.88 C323.71,152.52 331.08,144.28 335.99,135.74 C340.90,127.20 345.82,101.01 350.73,104.65 C355.64,108.29 360.56,146.17 365.47,157.60 C370.38,169.03 375.30,168.51 380.21,173.23 C385.12,177.94 390.04,183.59 394.95,185.90 C399.86,188.21 404.78,186.23 409.69,187.08 C414.60,187.93 419.52,190.14 424.43,191.00 C429.34,191.86 434.26,191.81 439.17,192.24 C444.08,192.67 449.00,193.18 453.91,193.58 C458.82,193.98 463.74,194.55 468.65,194.65 C473.56,194.75 478.48,194.15 483.39,194.17 C488.30,194.19 493.22,194.58 498.13,194.76 C503.04,194.94 507.96,195.10 512.87,195.24 C517.78,195.39 525.15,195.56 527.61,195.62" fill="none" stroke="#d08a28" stroke-width="2.1"/>
<circle cx="321.25" cy="155.88" r="6.05" fill="url(#ballb)"/>
<circle cx="335.99" cy="135.74" r="6.05" fill="url(#ballb)"/>
<circle cx="350.73" cy="104.65" r="6.05" fill="url(#ballb)"/>
<circle cx="365.47" cy="157.60" r="6.05" fill="url(#ballb)"/>
<circle cx="380.21" cy="173.23" r="6.05" fill="url(#ballb)"/>
<circle cx="394.95" cy="185.90" r="6.05" fill="url(#ballb)"/>
<circle cx="409.69" cy="187.08" r="6.05" fill="url(#ballb)"/>
<circle cx="424.43" cy="191.00" r="6.05" fill="url(#ballb)"/>
<circle cx="439.17" cy="192.24" r="6.05" fill="url(#ballb)"/>
<circle cx="453.91" cy="193.58" r="6.05" fill="url(#ballb)"/>
<circle cx="468.65" cy="194.65" r="6.05" fill="url(#ballb)"/>
<circle cx="483.39" cy="194.17" r="6.05" fill="url(#ballb)"/>
<circle cx="498.13" cy="194.76" r="6.05" fill="url(#ballb)"/>
<circle cx="512.87" cy="195.24" r="6.05" fill="url(#ballb)"/>
<circle cx="527.61" cy="195.62" r="6.05" fill="url(#ballb)"/>
<text x="317.8" y="172.7" font-size="9.1" fill="#7a1a30" stroke="#7a1a30" stroke-width="0.25" textLength="15.1" lengthAdjust="spacingAndGlyphs">76.2</text>
<line x1="323.3" y1="161.5" x2="325.3" y2="163.5" stroke="#7a1a30" stroke-width="0.9"/>
<text x="316.2" y="120.7" font-size="9.1" fill="#7a1a30" stroke="#7a1a30" stroke-width="0.25" textLength="20.3" lengthAdjust="spacingAndGlyphs">113.7</text>
<line x1="326.4" y1="123.8" x2="329.4" y2="127.9" stroke="#7a1a30" stroke-width="0.9"/>
<text x="344.7" y="90.2" font-size="9.1" fill="#7a1a30" stroke="#7a1a30" stroke-width="0.25" textLength="20.3" lengthAdjust="spacingAndGlyphs">171.6</text>
<line x1="351.8" y1="96.3" x2="354.9" y2="93.2" stroke="#7a1a30" stroke-width="0.9"/>
<text x="367.1" y="143.5" font-size="9.1" fill="#7a1a30" stroke="#7a1a30" stroke-width="0.25" textLength="17.3" lengthAdjust="spacingAndGlyphs">73.0</text>
<line x1="366" y1="150.2" x2="368.1" y2="146.2" stroke="#7a1a30" stroke-width="0.9"/>
<text x="378.3" y="159.4" font-size="9.1" fill="#7a1a30" stroke="#7a1a30" stroke-width="0.25" textLength="15.1" lengthAdjust="spacingAndGlyphs">43.9</text>
<line x1="385.9" y1="162.1" x2="385.9" y2="165.6" stroke="#7a1a30" stroke-width="0.9"/>
<text x="384.7" y="206.6" font-size="9.1" fill="#7a1a30" stroke="#7a1a30" stroke-width="0.25" textLength="15.6" lengthAdjust="spacingAndGlyphs">20.3</text>
<line x1="394.2" y1="193.5" x2="393" y2="198" stroke="#7a1a30" stroke-width="0.9"/>
<text x="404.6" y="168.5" font-size="9.1" fill="#7a1a30" stroke="#7a1a30" stroke-width="0.25" textLength="14.7" lengthAdjust="spacingAndGlyphs">18.1</text>
<line x1="411.5" y1="172" x2="410.7" y2="178.9" stroke="#7a1a30" stroke-width="0.9"/>
<text x="414.6" y="211.8" font-size="9.1" fill="#7a1a30" stroke="#7a1a30" stroke-width="0.25" textLength="14.6" lengthAdjust="spacingAndGlyphs">10.8</text>
<line x1="423.3" y1="198" x2="421.9" y2="202.3" stroke="#7a1a30" stroke-width="0.9"/>
<text x="432.6" y="177.2" font-size="9.1" fill="#7a1a30" stroke="#7a1a30" stroke-width="0.25" textLength="11.8" lengthAdjust="spacingAndGlyphs">8.5</text>
<line x1="438.9" y1="180.7" x2="438.9" y2="184.1" stroke="#7a1a30" stroke-width="0.9"/>
<text x="447" y="213" font-size="9.1" fill="#7a1a30" stroke="#7a1a30" stroke-width="0.25" textLength="11.2" lengthAdjust="spacingAndGlyphs">6.0</text>
<line x1="453" y1="201" x2="452.5" y2="205" stroke="#7a1a30" stroke-width="0.9"/>
<text x="461.6" y="181" font-size="9.1" fill="#7a1a30" stroke="#7a1a30" stroke-width="0.25" textLength="11.4" lengthAdjust="spacingAndGlyphs">4.0</text>
<line x1="467" y1="184" x2="468" y2="187" stroke="#7a1a30" stroke-width="0.9"/>
<text x="474" y="214.4" font-size="9.1" fill="#7a1a30" stroke="#7a1a30" stroke-width="0.25" textLength="12.0" lengthAdjust="spacingAndGlyphs">4.9</text>
<line x1="482.4" y1="201" x2="481.4" y2="206" stroke="#7a1a30" stroke-width="0.9"/>
<text x="491.6" y="185" font-size="9.1" fill="#7a1a30" stroke="#7a1a30" stroke-width="0.25" textLength="11.4" lengthAdjust="spacingAndGlyphs">3.8</text>
<line x1="496" y1="186.5" x2="496.5" y2="189" stroke="#7a1a30" stroke-width="0.9"/>
<text x="506" y="217" font-size="9.1" fill="#7a1a30" stroke="#7a1a30" stroke-width="0.25" textLength="11.0" lengthAdjust="spacingAndGlyphs">2.9</text>
<line x1="511.6" y1="203" x2="511" y2="209" stroke="#7a1a30" stroke-width="0.9"/>
<text x="519" y="183.3" font-size="9.1" fill="#7a1a30" stroke="#7a1a30" stroke-width="0.25" textLength="10.6" lengthAdjust="spacingAndGlyphs">2.2</text>
<line x1="524" y1="185" x2="526" y2="188" stroke="#7a1a30" stroke-width="0.9"/>
</g></g>
<line x1="71.9" y1="412.00" x2="305.6" y2="412.00" stroke="#b8b8b8" stroke-width="1" stroke-dasharray="2.5 2.14" stroke-dashoffset="-0.7"/>
<line x1="71.9" y1="358.30" x2="305.6" y2="358.30" stroke="#b8b8b8" stroke-width="1" stroke-dasharray="2.5 2.14" stroke-dashoffset="-0.7"/>
<line x1="71.9" y1="304.60" x2="305.6" y2="304.60" stroke="#b8b8b8" stroke-width="1" stroke-dasharray="2.5 2.14" stroke-dashoffset="-0.7"/>
<line x1="71.9" y1="250.90" x2="305.6" y2="250.90" stroke="#b8b8b8" stroke-width="1" stroke-dasharray="2.5 2.14" stroke-dashoffset="-0.7"/>
<path d="M85.55,352.55 C88.01,347.76 95.38,330.21 100.29,323.77 C105.20,317.34 110.12,305.95 115.03,313.94 C119.94,321.94 124.86,359.84 129.77,371.73 C134.68,383.61 139.60,380.54 144.51,385.26 C149.42,389.97 154.34,397.29 159.25,400.02 C164.16,402.76 169.08,400.68 173.99,401.69 C178.90,402.70 183.82,405.15 188.73,406.09 C193.64,407.03 198.56,407.13 203.47,407.33 C208.38,407.52 213.30,406.84 218.21,407.27 C223.12,407.71 228.04,409.62 232.95,409.96 C237.86,410.30 242.78,409.29 247.69,409.31 C252.60,409.34 257.52,409.90 262.43,410.12 C267.34,410.34 272.26,410.52 277.17,410.66 C282.08,410.79 289.45,410.88 291.91,410.93" fill="none" stroke="#52c530" stroke-width="2.1"/>
<circle cx="85.55" cy="352.55" r="6.05" fill="url(#gball)"/>
<circle cx="100.29" cy="323.77" r="6.05" fill="url(#gball)"/>
<circle cx="115.03" cy="313.94" r="6.05" fill="url(#gball)"/>
<circle cx="129.77" cy="371.73" r="6.05" fill="url(#gball)"/>
<circle cx="144.51" cy="385.26" r="6.05" fill="url(#gball)"/>
<circle cx="159.25" cy="400.02" r="6.05" fill="url(#gball)"/>
<circle cx="173.99" cy="401.69" r="6.05" fill="url(#gball)"/>
<circle cx="188.73" cy="406.09" r="6.05" fill="url(#gball)"/>
<circle cx="203.47" cy="407.33" r="6.05" fill="url(#gball)"/>
<circle cx="218.21" cy="407.27" r="6.05" fill="url(#gball)"/>
<circle cx="232.95" cy="409.96" r="6.05" fill="url(#gball)"/>
<circle cx="247.69" cy="409.31" r="6.05" fill="url(#gball)"/>
<circle cx="262.43" cy="410.12" r="6.05" fill="url(#gball)"/>
<circle cx="277.17" cy="410.66" r="6.05" fill="url(#gball)"/>
<circle cx="291.91" cy="410.93" r="6.05" fill="url(#gball)"/>
<text x="78.2" y="370.5" font-size="9.1" fill="#1e1e1e" stroke="#1e1e1e" stroke-width="0.25" textLength="18.8" lengthAdjust="spacingAndGlyphs">110.7</text>
<line x1="85.9" y1="361.2" x2="87.6" y2="363.5" stroke="#1e1e1e" stroke-width="0.9"/>
<text x="75.2" y="313.1" font-size="9.1" fill="#1e1e1e" stroke="#1e1e1e" stroke-width="0.25" textLength="20.1" lengthAdjust="spacingAndGlyphs">164.3</text>
<line x1="95.8" y1="315" x2="99.3" y2="317.3" stroke="#1e1e1e" stroke-width="0.9"/>
<text x="108" y="299.5" font-size="9.1" fill="#1e1e1e" stroke="#1e1e1e" stroke-width="0.25" textLength="20.1" lengthAdjust="spacingAndGlyphs">182.6</text>
<line x1="116.4" y1="305.6" x2="118" y2="302.6" stroke="#1e1e1e" stroke-width="0.9"/>
<text x="139.1" y="358.8" font-size="9.1" fill="#1e1e1e" stroke="#1e1e1e" stroke-width="0.25" textLength="16.4" lengthAdjust="spacingAndGlyphs">75.0</text>
<line x1="136.8" y1="364.7" x2="139.8" y2="360.5" stroke="#1e1e1e" stroke-width="0.9"/>
<text x="122.2" y="407.3" font-size="9.1" fill="#1e1e1e" stroke="#1e1e1e" stroke-width="0.25" textLength="15.6" lengthAdjust="spacingAndGlyphs">49.8</text>
<line x1="137.3" y1="399.1" x2="142.7" y2="392.7" stroke="#1e1e1e" stroke-width="0.9"/>
<text x="154.5" y="384.5" font-size="9.1" fill="#1e1e1e" stroke="#1e1e1e" stroke-width="0.25" textLength="15.5" lengthAdjust="spacingAndGlyphs">22.3</text>
<line x1="162.7" y1="387.3" x2="160.9" y2="392.7" stroke="#1e1e1e" stroke-width="0.9"/>
<text x="162.7" y="426.4" font-size="9.1" fill="#1e1e1e" stroke="#1e1e1e" stroke-width="0.25" textLength="15.5" lengthAdjust="spacingAndGlyphs">19.2</text>
<line x1="172.7" y1="409.1" x2="171.3" y2="416.4" stroke="#1e1e1e" stroke-width="0.9"/>
<text x="185" y="392.2" font-size="9.1" fill="#1e1e1e" stroke="#1e1e1e" stroke-width="0.25" textLength="15.2" lengthAdjust="spacingAndGlyphs">11.0</text>
<line x1="191.5" y1="394.5" x2="190.3" y2="398.4" stroke="#1e1e1e" stroke-width="0.9"/>
<text x="194.9" y="428.8" font-size="9.1" fill="#1e1e1e" stroke="#1e1e1e" stroke-width="0.25" textLength="10.8" lengthAdjust="spacingAndGlyphs">8.7</text>
<line x1="201.8" y1="415.8" x2="201" y2="419.7" stroke="#1e1e1e" stroke-width="0.9"/>
<text x="213.9" y="394.5" font-size="9.1" fill="#1e1e1e" stroke="#1e1e1e" stroke-width="0.25" textLength="11.5" lengthAdjust="spacingAndGlyphs">8.8</text>
<line x1="219.4" y1="396.1" x2="218.5" y2="399.7" stroke="#1e1e1e" stroke-width="0.9"/>
<text x="224.7" y="430" font-size="9.1" fill="#1e1e1e" stroke="#1e1e1e" stroke-width="0.25" textLength="11.4" lengthAdjust="spacingAndGlyphs">3.8</text>
<line x1="230.9" y1="417.4" x2="230" y2="420.8" stroke="#1e1e1e" stroke-width="0.9"/>
<text x="243" y="397.5" font-size="9.1" fill="#1e1e1e" stroke="#1e1e1e" stroke-width="0.25" textLength="11.5" lengthAdjust="spacingAndGlyphs">5.0</text>
<line x1="248.7" y1="399" x2="248.3" y2="401.3" stroke="#1e1e1e" stroke-width="0.9"/>
<text x="254.5" y="431.1" font-size="9.1" fill="#1e1e1e" stroke="#1e1e1e" stroke-width="0.25" textLength="10.7" lengthAdjust="spacingAndGlyphs">3.5</text>
<line x1="260.6" y1="417.4" x2="259.7" y2="422" stroke="#1e1e1e" stroke-width="0.9"/>
<text x="273.5" y="399" font-size="9.1" fill="#1e1e1e" stroke="#1e1e1e" stroke-width="0.25" textLength="10.7" lengthAdjust="spacingAndGlyphs">2.5</text>
<line x1="279" y1="400.2" x2="278" y2="403.6" stroke="#1e1e1e" stroke-width="0.9"/>
<text x="285.8" y="428.8" font-size="9.1" fill="#1e1e1e" stroke="#1e1e1e" stroke-width="0.25" textLength="11.0" lengthAdjust="spacingAndGlyphs">2.0</text>
<line x1="291.1" y1="414" x2="291.8" y2="418.5" stroke="#1e1e1e" stroke-width="0.9"/>
<g clip-path="url(#framec)">
<path d="M85.55,298.42 L88.50,299.80 L91.45,301.17 L94.39,302.53 L97.34,303.89 L100.29,305.25 L103.24,306.60 L106.19,307.94 L109.13,309.28 L112.08,310.62 L115.03,311.94 L117.98,313.27 L120.93,314.59 L123.87,315.90 L126.82,317.21 L129.77,318.51 L132.72,319.80 L135.67,321.10 L138.61,322.38 L141.56,323.66 L144.51,324.93 L147.46,326.20 L150.41,327.46 L153.35,328.72 L156.30,329.97 L159.25,331.22 L162.20,332.46 L165.15,333.69 L168.09,334.92 L171.04,336.14 L173.99,337.35 L176.94,338.56 L179.89,339.77 L182.83,340.96 L185.78,342.15 L188.73,343.34 L191.68,344.52 L194.63,345.69 L197.57,346.86 L200.52,348.02 L203.47,349.18 L206.42,350.33 L209.37,351.47 L212.31,352.61 L215.26,353.74 L218.21,354.87 L221.16,355.99 L224.11,357.10 L227.05,358.21 L230.00,359.31 L232.95,360.41 L235.90,361.50 L238.85,362.58 L241.79,363.66 L244.74,364.74 L247.69,365.81 L250.64,366.87 L253.59,367.93 L256.53,368.98 L259.48,370.03 L262.43,371.07 L265.38,372.10 L268.33,373.13 L271.27,374.16 L274.22,375.18 L277.17,376.20 L280.12,377.21 L283.07,378.21 L286.01,379.21 L288.96,380.21 L291.91,381.20 L291.91,477.68 L288.96,476.30 L286.01,474.93 L283.07,473.57 L280.12,472.21 L277.17,470.85 L274.22,469.50 L271.27,468.16 L268.33,466.82 L265.38,465.48 L262.43,464.16 L259.48,462.83 L256.53,461.51 L253.59,460.20 L250.64,458.89 L247.69,457.59 L244.74,456.30 L241.79,455.00 L238.85,453.72 L235.90,452.44 L232.95,451.17 L230.00,449.90 L227.05,448.64 L224.11,447.38 L221.16,446.13 L218.21,444.88 L215.26,443.64 L212.31,442.41 L209.37,441.18 L206.42,439.96 L203.47,438.75 L200.52,437.54 L197.57,436.33 L194.63,435.14 L191.68,433.95 L188.73,432.76 L185.78,431.58 L182.83,430.41 L179.89,429.24 L176.94,428.08 L173.99,426.92 L171.04,425.77 L168.09,424.63 L165.15,423.49 L162.20,422.36 L159.25,421.23 L156.30,420.11 L153.35,419.00 L150.41,417.89 L147.46,416.79 L144.51,415.69 L141.56,414.60 L138.61,413.51 L135.67,412.44 L132.72,411.36 L129.77,410.29 L126.82,409.23 L123.87,408.17 L120.93,407.12 L117.98,406.07 L115.03,405.03 L112.08,404.00 L109.13,402.97 L106.19,401.94 L103.24,400.92 L100.29,399.90 L97.34,398.89 L94.39,397.89 L91.45,396.89 L88.50,395.89 L85.55,394.90 Z" fill="rgb(228,55,142)" fill-opacity="0.15"/>
<g clip-path="url(#confc)">
<rect x="0" y="0" width="550" height="491" fill="#f0aad6"/>
<line x1="71.9" y1="412.00" x2="305.6" y2="412.00" stroke="#c890b0" stroke-width="1" stroke-dasharray="2.5 2.14" stroke-dashoffset="-0.7"/>
<line x1="71.9" y1="358.30" x2="305.6" y2="358.30" stroke="#c890b0" stroke-width="1" stroke-dasharray="2.5 2.14" stroke-dashoffset="-0.7"/>
<line x1="71.9" y1="304.60" x2="305.6" y2="304.60" stroke="#c890b0" stroke-width="1" stroke-dasharray="2.5 2.14" stroke-dashoffset="-0.7"/>
<line x1="71.9" y1="250.90" x2="305.6" y2="250.90" stroke="#c890b0" stroke-width="1" stroke-dasharray="2.5 2.14" stroke-dashoffset="-0.7"/>
<path d="M85.55,352.55 C88.01,347.76 95.38,330.21 100.29,323.77 C105.20,317.34 110.12,305.95 115.03,313.94 C119.94,321.94 124.86,359.84 129.77,371.73 C134.68,383.61 139.60,380.54 144.51,385.26 C149.42,389.97 154.34,397.29 159.25,400.02 C164.16,402.76 169.08,400.68 173.99,401.69 C178.90,402.70 183.82,405.15 188.73,406.09 C193.64,407.03 198.56,407.13 203.47,407.33 C208.38,407.52 213.30,406.84 218.21,407.27 C223.12,407.71 228.04,409.62 232.95,409.96 C237.86,410.30 242.78,409.29 247.69,409.31 C252.60,409.34 257.52,409.90 262.43,410.12 C267.34,410.34 272.26,410.52 277.17,410.66 C282.08,410.79 289.45,410.88 291.91,410.93" fill="none" stroke="#9a9462" stroke-width="2.1"/>
<circle cx="85.55" cy="352.55" r="6.05" fill="url(#ballc)"/>
<circle cx="100.29" cy="323.77" r="6.05" fill="url(#ballc)"/>
<circle cx="115.03" cy="313.94" r="6.05" fill="url(#ballc)"/>
<circle cx="129.77" cy="371.73" r="6.05" fill="url(#ballc)"/>
<circle cx="144.51" cy="385.26" r="6.05" fill="url(#ballc)"/>
<circle cx="159.25" cy="400.02" r="6.05" fill="url(#ballc)"/>
<circle cx="173.99" cy="401.69" r="6.05" fill="url(#ballc)"/>
<circle cx="188.73" cy="406.09" r="6.05" fill="url(#ballc)"/>
<circle cx="203.47" cy="407.33" r="6.05" fill="url(#ballc)"/>
<circle cx="218.21" cy="407.27" r="6.05" fill="url(#ballc)"/>
<circle cx="232.95" cy="409.96" r="6.05" fill="url(#ballc)"/>
<circle cx="247.69" cy="409.31" r="6.05" fill="url(#ballc)"/>
<circle cx="262.43" cy="410.12" r="6.05" fill="url(#ballc)"/>
<circle cx="277.17" cy="410.66" r="6.05" fill="url(#ballc)"/>
<circle cx="291.91" cy="410.93" r="6.05" fill="url(#ballc)"/>
<text x="78.2" y="370.5" font-size="9.1" fill="#6a2a50" stroke="#6a2a50" stroke-width="0.25" textLength="18.8" lengthAdjust="spacingAndGlyphs">110.7</text>
<line x1="85.9" y1="361.2" x2="87.6" y2="363.5" stroke="#6a2a50" stroke-width="0.9"/>
<text x="75.2" y="313.1" font-size="9.1" fill="#6a2a50" stroke="#6a2a50" stroke-width="0.25" textLength="20.1" lengthAdjust="spacingAndGlyphs">164.3</text>
<line x1="95.8" y1="315" x2="99.3" y2="317.3" stroke="#6a2a50" stroke-width="0.9"/>
<text x="108" y="299.5" font-size="9.1" fill="#6a2a50" stroke="#6a2a50" stroke-width="0.25" textLength="20.1" lengthAdjust="spacingAndGlyphs">182.6</text>
<line x1="116.4" y1="305.6" x2="118" y2="302.6" stroke="#6a2a50" stroke-width="0.9"/>
<text x="139.1" y="358.8" font-size="9.1" fill="#6a2a50" stroke="#6a2a50" stroke-width="0.25" textLength="16.4" lengthAdjust="spacingAndGlyphs">75.0</text>
<line x1="136.8" y1="364.7" x2="139.8" y2="360.5" stroke="#6a2a50" stroke-width="0.9"/>
<text x="122.2" y="407.3" font-size="9.1" fill="#6a2a50" stroke="#6a2a50" stroke-width="0.25" textLength="15.6" lengthAdjust="spacingAndGlyphs">49.8</text>
<line x1="137.3" y1="399.1" x2="142.7" y2="392.7" stroke="#6a2a50" stroke-width="0.9"/>
<text x="154.5" y="384.5" font-size="9.1" fill="#6a2a50" stroke="#6a2a50" stroke-width="0.25" textLength="15.5" lengthAdjust="spacingAndGlyphs">22.3</text>
<line x1="162.7" y1="387.3" x2="160.9" y2="392.7" stroke="#6a2a50" stroke-width="0.9"/>
<text x="162.7" y="426.4" font-size="9.1" fill="#6a2a50" stroke="#6a2a50" stroke-width="0.25" textLength="15.5" lengthAdjust="spacingAndGlyphs">19.2</text>
<line x1="172.7" y1="409.1" x2="171.3" y2="416.4" stroke="#6a2a50" stroke-width="0.9"/>
<text x="185" y="392.2" font-size="9.1" fill="#6a2a50" stroke="#6a2a50" stroke-width="0.25" textLength="15.2" lengthAdjust="spacingAndGlyphs">11.0</text>
<line x1="191.5" y1="394.5" x2="190.3" y2="398.4" stroke="#6a2a50" stroke-width="0.9"/>
<text x="194.9" y="428.8" font-size="9.1" fill="#6a2a50" stroke="#6a2a50" stroke-width="0.25" textLength="10.8" lengthAdjust="spacingAndGlyphs">8.7</text>
<line x1="201.8" y1="415.8" x2="201" y2="419.7" stroke="#6a2a50" stroke-width="0.9"/>
<text x="213.9" y="394.5" font-size="9.1" fill="#6a2a50" stroke="#6a2a50" stroke-width="0.25" textLength="11.5" lengthAdjust="spacingAndGlyphs">8.8</text>
<line x1="219.4" y1="396.1" x2="218.5" y2="399.7" stroke="#6a2a50" stroke-width="0.9"/>
<text x="224.7" y="430" font-size="9.1" fill="#6a2a50" stroke="#6a2a50" stroke-width="0.25" textLength="11.4" lengthAdjust="spacingAndGlyphs">3.8</text>
<line x1="230.9" y1="417.4" x2="230" y2="420.8" stroke="#6a2a50" stroke-width="0.9"/>
<text x="243" y="397.5" font-size="9.1" fill="#6a2a50" stroke="#6a2a50" stroke-width="0.25" textLength="11.5" lengthAdjust="spacingAndGlyphs">5.0</text>
<line x1="248.7" y1="399" x2="248.3" y2="401.3" stroke="#6a2a50" stroke-width="0.9"/>
<text x="254.5" y="431.1" font-size="9.1" fill="#6a2a50" stroke="#6a2a50" stroke-width="0.25" textLength="10.7" lengthAdjust="spacingAndGlyphs">3.5</text>
<line x1="260.6" y1="417.4" x2="259.7" y2="422" stroke="#6a2a50" stroke-width="0.9"/>
<text x="273.5" y="399" font-size="9.1" fill="#6a2a50" stroke="#6a2a50" stroke-width="0.25" textLength="10.7" lengthAdjust="spacingAndGlyphs">2.5</text>
<line x1="279" y1="400.2" x2="278" y2="403.6" stroke="#6a2a50" stroke-width="0.9"/>
<text x="285.8" y="428.8" font-size="9.1" fill="#6a2a50" stroke="#6a2a50" stroke-width="0.25" textLength="11.0" lengthAdjust="spacingAndGlyphs">2.0</text>
<line x1="291.1" y1="414" x2="291.8" y2="418.5" stroke="#6a2a50" stroke-width="0.9"/>
</g></g>
<line x1="307.6" y1="412.00" x2="541.4" y2="412.00" stroke="#b8b8b8" stroke-width="1" stroke-dasharray="2.5 2.14" stroke-dashoffset="-0.7"/>
<line x1="307.6" y1="358.30" x2="541.4" y2="358.30" stroke="#b8b8b8" stroke-width="1" stroke-dasharray="2.5 2.14" stroke-dashoffset="-0.7"/>
<line x1="307.6" y1="304.60" x2="541.4" y2="304.60" stroke="#b8b8b8" stroke-width="1" stroke-dasharray="2.5 2.14" stroke-dashoffset="-0.7"/>
<line x1="307.6" y1="250.90" x2="541.4" y2="250.90" stroke="#b8b8b8" stroke-width="1" stroke-dasharray="2.5 2.14" stroke-dashoffset="-0.7"/>
<path d="M321.25,350.62 C323.71,343.72 331.08,322.29 335.99,309.22 C340.90,296.14 345.82,265.01 350.73,272.17 C355.64,279.32 360.56,335.85 365.47,352.12 C370.38,368.40 375.30,363.68 380.21,369.79 C385.12,375.90 390.04,384.85 394.95,388.80 C399.86,392.75 404.78,391.59 409.69,393.47 C414.60,395.35 419.52,398.56 424.43,400.08 C429.34,401.60 434.26,401.90 439.17,402.60 C444.08,403.31 449.00,403.49 453.91,404.32 C458.82,405.15 463.74,407.02 468.65,407.60 C473.56,408.17 478.48,407.54 483.39,407.76 C488.30,407.97 493.22,408.62 498.13,408.89 C503.04,409.15 507.96,409.17 512.87,409.37 C517.78,409.57 525.15,409.95 527.61,410.07" fill="none" stroke="#52c530" stroke-width="2.1"/>
<circle cx="321.25" cy="350.62" r="6.05" fill="url(#gball)"/>
<circle cx="335.99" cy="309.22" r="6.05" fill="url(#gball)"/>
<circle cx="350.73" cy="272.17" r="6.05" fill="url(#gball)"/>
<circle cx="365.47" cy="352.12" r="6.05" fill="url(#gball)"/>
<circle cx="380.21" cy="369.79" r="6.05" fill="url(#gball)"/>
<circle cx="394.95" cy="388.80" r="6.05" fill="url(#gball)"/>
<circle cx="409.69" cy="393.47" r="6.05" fill="url(#gball)"/>
<circle cx="424.43" cy="400.08" r="6.05" fill="url(#gball)"/>
<circle cx="439.17" cy="402.60" r="6.05" fill="url(#gball)"/>
<circle cx="453.91" cy="404.32" r="6.05" fill="url(#gball)"/>
<circle cx="468.65" cy="407.60" r="6.05" fill="url(#gball)"/>
<circle cx="483.39" cy="407.76" r="6.05" fill="url(#gball)"/>
<circle cx="498.13" cy="408.89" r="6.05" fill="url(#gball)"/>
<circle cx="512.87" cy="409.37" r="6.05" fill="url(#gball)"/>
<circle cx="527.61" cy="410.07" r="6.05" fill="url(#gball)"/>
<text x="308.6" y="367.5" font-size="9.1" fill="#1e1e1e" stroke="#1e1e1e" stroke-width="0.25" textLength="20.7" lengthAdjust="spacingAndGlyphs">114.3</text>
<line x1="319.2" y1="356.9" x2="320" y2="360" stroke="#1e1e1e" stroke-width="0.9"/>
<text x="312.6" y="298.7" font-size="9.1" fill="#1e1e1e" stroke="#1e1e1e" stroke-width="0.25" textLength="19.9" lengthAdjust="spacingAndGlyphs">191.4</text>
<line x1="331.1" y1="300.5" x2="333.8" y2="304" stroke="#1e1e1e" stroke-width="0.9"/>
<text x="358.6" y="267.4" font-size="9.1" fill="#1e1e1e" stroke="#1e1e1e" stroke-width="0.25" textLength="20.5" lengthAdjust="spacingAndGlyphs">260.4</text>
<line x1="358.3" y1="265.8" x2="360" y2="262.8" stroke="#1e1e1e" stroke-width="0.9"/>
<text x="368.2" y="333.1" font-size="9.1" fill="#1e1e1e" stroke="#1e1e1e" stroke-width="0.25" textLength="20.4" lengthAdjust="spacingAndGlyphs">111.5</text>
<line x1="365.6" y1="345" x2="368.2" y2="337" stroke="#1e1e1e" stroke-width="0.9"/>
<text x="362.4" y="391.4" font-size="9.1" fill="#1e1e1e" stroke="#1e1e1e" stroke-width="0.25" textLength="15.1" lengthAdjust="spacingAndGlyphs">78.6</text>
<line x1="377.5" y1="383.2" x2="379.3" y2="377.2" stroke="#1e1e1e" stroke-width="0.9"/>
<text x="389.6" y="375.4" font-size="9.1" fill="#1e1e1e" stroke="#1e1e1e" stroke-width="0.25" textLength="15.5" lengthAdjust="spacingAndGlyphs">43.2</text>
<line x1="397.8" y1="377.7" x2="396.4" y2="380.5" stroke="#1e1e1e" stroke-width="0.9"/>
<text x="393.3" y="415" font-size="9.1" fill="#1e1e1e" stroke="#1e1e1e" stroke-width="0.25" textLength="15.4" lengthAdjust="spacingAndGlyphs">34.5</text>
<line x1="403.6" y1="401.4" x2="401.5" y2="405.9" stroke="#1e1e1e" stroke-width="0.9"/>
<text x="419.6" y="387.7" font-size="9.1" fill="#1e1e1e" stroke="#1e1e1e" stroke-width="0.25" textLength="15.5" lengthAdjust="spacingAndGlyphs">22.2</text>
<line x1="426.9" y1="390.5" x2="425.5" y2="393.2" stroke="#1e1e1e" stroke-width="0.9"/>
<text x="426.9" y="425" font-size="9.1" fill="#1e1e1e" stroke="#1e1e1e" stroke-width="0.25" textLength="14.6" lengthAdjust="spacingAndGlyphs">17.5</text>
<line x1="437.8" y1="410.5" x2="436" y2="415.9" stroke="#1e1e1e" stroke-width="0.9"/>
<text x="447" y="388.4" font-size="9.1" fill="#1e1e1e" stroke="#1e1e1e" stroke-width="0.25" textLength="15.0" lengthAdjust="spacingAndGlyphs">14.3</text>
<line x1="454" y1="391.6" x2="454.2" y2="396.4" stroke="#1e1e1e" stroke-width="0.9"/>
<text x="461" y="431" font-size="9.1" fill="#1e1e1e" stroke="#1e1e1e" stroke-width="0.25" textLength="11.0" lengthAdjust="spacingAndGlyphs">8.2</text>
<line x1="467" y1="415.6" x2="466" y2="423" stroke="#1e1e1e" stroke-width="0.9"/>
<text x="477.6" y="393" font-size="9.1" fill="#1e1e1e" stroke="#1e1e1e" stroke-width="0.25" textLength="10.8" lengthAdjust="spacingAndGlyphs">7.9</text>
<line x1="483" y1="395.6" x2="483" y2="400" stroke="#1e1e1e" stroke-width="0.9"/>
<text x="491.6" y="433" font-size="9.1" fill="#1e1e1e" stroke="#1e1e1e" stroke-width="0.25" textLength="11.4" lengthAdjust="spacingAndGlyphs">5.8</text>
<line x1="497" y1="417" x2="497" y2="426" stroke="#1e1e1e" stroke-width="0.9"/>
<text x="505.6" y="395" font-size="9.1" fill="#1e1e1e" stroke="#1e1e1e" stroke-width="0.25" textLength="11.4" lengthAdjust="spacingAndGlyphs">4.9</text>
<line x1="511" y1="398" x2="512" y2="402" stroke="#1e1e1e" stroke-width="0.9"/>
<text x="520.4" y="432.4" font-size="9.1" fill="#1e1e1e" stroke="#1e1e1e" stroke-width="0.25" textLength="11.2" lengthAdjust="spacingAndGlyphs">3.6</text>
<line x1="527" y1="417" x2="526" y2="425" stroke="#1e1e1e" stroke-width="0.9"/>
<g clip-path="url(#framed)">
<path d="M321.25,264.25 L324.20,265.99 L327.15,267.71 L330.09,269.44 L333.04,271.15 L335.99,272.86 L338.94,274.56 L341.89,276.25 L344.83,277.94 L347.78,279.62 L350.73,281.30 L353.68,282.97 L356.63,284.63 L359.57,286.28 L362.52,287.92 L365.47,289.56 L368.42,291.20 L371.37,292.82 L374.31,294.44 L377.26,296.05 L380.21,297.65 L383.16,299.24 L386.11,300.83 L389.05,302.41 L392.00,303.98 L394.95,305.55 L397.90,307.11 L400.85,308.66 L403.79,310.20 L406.74,311.73 L409.69,313.26 L412.64,314.78 L415.59,316.29 L418.53,317.79 L421.48,319.28 L424.43,320.77 L427.38,322.25 L430.33,323.72 L433.27,325.18 L436.22,326.64 L439.17,328.09 L442.12,329.53 L445.07,330.96 L448.01,332.39 L450.96,333.80 L453.91,335.21 L456.86,336.61 L459.81,338.01 L462.75,339.40 L465.70,340.77 L468.65,342.15 L471.60,343.51 L474.55,344.87 L477.49,346.22 L480.44,347.56 L483.39,348.89 L486.34,350.22 L489.29,351.54 L492.23,352.85 L495.18,354.16 L498.13,355.46 L501.08,356.75 L504.03,358.03 L506.97,359.31 L509.92,360.58 L512.87,361.85 L515.82,363.11 L518.77,364.36 L521.71,365.61 L524.66,366.84 L527.61,368.08 L527.61,493.97 L524.66,492.24 L521.71,490.51 L518.77,488.79 L515.82,487.08 L512.87,485.37 L509.92,483.67 L506.97,481.97 L504.03,480.29 L501.08,478.60 L498.13,476.93 L495.18,475.26 L492.23,473.60 L489.29,471.95 L486.34,470.30 L483.39,468.66 L480.44,467.03 L477.49,465.41 L474.55,463.79 L471.60,462.18 L468.65,460.58 L465.70,458.98 L462.75,457.40 L459.81,455.82 L456.86,454.24 L453.91,452.68 L450.96,451.12 L448.01,449.57 L445.07,448.03 L442.12,446.50 L439.17,444.97 L436.22,443.45 L433.27,441.94 L430.33,440.44 L427.38,438.95 L424.43,437.46 L421.48,435.98 L418.53,434.51 L415.59,433.04 L412.64,431.59 L409.69,430.14 L406.74,428.70 L403.79,427.27 L400.85,425.84 L397.90,424.42 L394.95,423.02 L392.00,421.61 L389.05,420.22 L386.11,418.83 L383.16,417.45 L380.21,416.08 L377.26,414.72 L374.31,413.36 L371.37,412.01 L368.42,410.67 L365.47,409.34 L362.52,408.01 L359.57,406.69 L356.63,405.38 L353.68,404.07 L350.73,402.77 L347.78,401.48 L344.83,400.19 L341.89,398.92 L338.94,397.64 L335.99,396.38 L333.04,395.12 L330.09,393.87 L327.15,392.62 L324.20,391.38 L321.25,390.15 Z" fill="rgb(62,62,228)" fill-opacity="0.15"/>
<g clip-path="url(#confd)">
<rect x="0" y="0" width="550" height="491" fill="#a2a2f6"/>
<line x1="307.6" y1="412.00" x2="541.4" y2="412.00" stroke="#8888c8" stroke-width="1" stroke-dasharray="2.5 2.14" stroke-dashoffset="-0.7"/>
<line x1="307.6" y1="358.30" x2="541.4" y2="358.30" stroke="#8888c8" stroke-width="1" stroke-dasharray="2.5 2.14" stroke-dashoffset="-0.7"/>
<line x1="307.6" y1="304.60" x2="541.4" y2="304.60" stroke="#8888c8" stroke-width="1" stroke-dasharray="2.5 2.14" stroke-dashoffset="-0.7"/>
<line x1="307.6" y1="250.90" x2="541.4" y2="250.90" stroke="#8888c8" stroke-width="1" stroke-dasharray="2.5 2.14" stroke-dashoffset="-0.7"/>
<path d="M321.25,350.62 C323.71,343.72 331.08,322.29 335.99,309.22 C340.90,296.14 345.82,265.01 350.73,272.17 C355.64,279.32 360.56,335.85 365.47,352.12 C370.38,368.40 375.30,363.68 380.21,369.79 C385.12,375.90 390.04,384.85 394.95,388.80 C399.86,392.75 404.78,391.59 409.69,393.47 C414.60,395.35 419.52,398.56 424.43,400.08 C429.34,401.60 434.26,401.90 439.17,402.60 C444.08,403.31 449.00,403.49 453.91,404.32 C458.82,405.15 463.74,407.02 468.65,407.60 C473.56,408.17 478.48,407.54 483.39,407.76 C488.30,407.97 493.22,408.62 498.13,408.89 C503.04,409.15 507.96,409.17 512.87,409.37 C517.78,409.57 525.15,409.95 527.61,410.07" fill="none" stroke="#348c84" stroke-width="2.1"/>
<circle cx="321.25" cy="350.62" r="6.05" fill="url(#balld)"/>
<circle cx="335.99" cy="309.22" r="6.05" fill="url(#balld)"/>
<circle cx="350.73" cy="272.17" r="6.05" fill="url(#balld)"/>
<circle cx="365.47" cy="352.12" r="6.05" fill="url(#balld)"/>
<circle cx="380.21" cy="369.79" r="6.05" fill="url(#balld)"/>
<circle cx="394.95" cy="388.80" r="6.05" fill="url(#balld)"/>
<circle cx="409.69" cy="393.47" r="6.05" fill="url(#balld)"/>
<circle cx="424.43" cy="400.08" r="6.05" fill="url(#balld)"/>
<circle cx="439.17" cy="402.60" r="6.05" fill="url(#balld)"/>
<circle cx="453.91" cy="404.32" r="6.05" fill="url(#balld)"/>
<circle cx="468.65" cy="407.60" r="6.05" fill="url(#balld)"/>
<circle cx="483.39" cy="407.76" r="6.05" fill="url(#balld)"/>
<circle cx="498.13" cy="408.89" r="6.05" fill="url(#balld)"/>
<circle cx="512.87" cy="409.37" r="6.05" fill="url(#balld)"/>
<circle cx="527.61" cy="410.07" r="6.05" fill="url(#balld)"/>
<text x="308.6" y="367.5" font-size="9.1" fill="#3c3c8c" stroke="#3c3c8c" stroke-width="0.25" textLength="20.7" lengthAdjust="spacingAndGlyphs">114.3</text>
<line x1="319.2" y1="356.9" x2="320" y2="360" stroke="#3c3c8c" stroke-width="0.9"/>
<text x="312.6" y="298.7" font-size="9.1" fill="#3c3c8c" stroke="#3c3c8c" stroke-width="0.25" textLength="19.9" lengthAdjust="spacingAndGlyphs">191.4</text>
<line x1="331.1" y1="300.5" x2="333.8" y2="304" stroke="#3c3c8c" stroke-width="0.9"/>
<text x="358.6" y="267.4" font-size="9.1" fill="#3c3c8c" stroke="#3c3c8c" stroke-width="0.25" textLength="20.5" lengthAdjust="spacingAndGlyphs">260.4</text>
<line x1="358.3" y1="265.8" x2="360" y2="262.8" stroke="#3c3c8c" stroke-width="0.9"/>
<text x="368.2" y="333.1" font-size="9.1" fill="#3c3c8c" stroke="#3c3c8c" stroke-width="0.25" textLength="20.4" lengthAdjust="spacingAndGlyphs">111.5</text>
<line x1="365.6" y1="345" x2="368.2" y2="337" stroke="#3c3c8c" stroke-width="0.9"/>
<text x="362.4" y="391.4" font-size="9.1" fill="#3c3c8c" stroke="#3c3c8c" stroke-width="0.25" textLength="15.1" lengthAdjust="spacingAndGlyphs">78.6</text>
<line x1="377.5" y1="383.2" x2="379.3" y2="377.2" stroke="#3c3c8c" stroke-width="0.9"/>
<text x="389.6" y="375.4" font-size="9.1" fill="#3c3c8c" stroke="#3c3c8c" stroke-width="0.25" textLength="15.5" lengthAdjust="spacingAndGlyphs">43.2</text>
<line x1="397.8" y1="377.7" x2="396.4" y2="380.5" stroke="#3c3c8c" stroke-width="0.9"/>
<text x="393.3" y="415" font-size="9.1" fill="#3c3c8c" stroke="#3c3c8c" stroke-width="0.25" textLength="15.4" lengthAdjust="spacingAndGlyphs">34.5</text>
<line x1="403.6" y1="401.4" x2="401.5" y2="405.9" stroke="#3c3c8c" stroke-width="0.9"/>
<text x="419.6" y="387.7" font-size="9.1" fill="#3c3c8c" stroke="#3c3c8c" stroke-width="0.25" textLength="15.5" lengthAdjust="spacingAndGlyphs">22.2</text>
<line x1="426.9" y1="390.5" x2="425.5" y2="393.2" stroke="#3c3c8c" stroke-width="0.9"/>
<text x="426.9" y="425" font-size="9.1" fill="#3c3c8c" stroke="#3c3c8c" stroke-width="0.25" textLength="14.6" lengthAdjust="spacingAndGlyphs">17.5</text>
<line x1="437.8" y1="410.5" x2="436" y2="415.9" stroke="#3c3c8c" stroke-width="0.9"/>
<text x="447" y="388.4" font-size="9.1" fill="#3c3c8c" stroke="#3c3c8c" stroke-width="0.25" textLength="15.0" lengthAdjust="spacingAndGlyphs">14.3</text>
<line x1="454" y1="391.6" x2="454.2" y2="396.4" stroke="#3c3c8c" stroke-width="0.9"/>
<text x="461" y="431" font-size="9.1" fill="#3c3c8c" stroke="#3c3c8c" stroke-width="0.25" textLength="11.0" lengthAdjust="spacingAndGlyphs">8.2</text>
<line x1="467" y1="415.6" x2="466" y2="423" stroke="#3c3c8c" stroke-width="0.9"/>
<text x="477.6" y="393" font-size="9.1" fill="#3c3c8c" stroke="#3c3c8c" stroke-width="0.25" textLength="10.8" lengthAdjust="spacingAndGlyphs">7.9</text>
<line x1="483" y1="395.6" x2="483" y2="400" stroke="#3c3c8c" stroke-width="0.9"/>
<text x="491.6" y="433" font-size="9.1" fill="#3c3c8c" stroke="#3c3c8c" stroke-width="0.25" textLength="11.4" lengthAdjust="spacingAndGlyphs">5.8</text>
<line x1="497" y1="417" x2="497" y2="426" stroke="#3c3c8c" stroke-width="0.9"/>
<text x="505.6" y="395" font-size="9.1" fill="#3c3c8c" stroke="#3c3c8c" stroke-width="0.25" textLength="11.4" lengthAdjust="spacingAndGlyphs">4.9</text>
<line x1="511" y1="398" x2="512" y2="402" stroke="#3c3c8c" stroke-width="0.9"/>
<text x="520.4" y="432.4" font-size="9.1" fill="#3c3c8c" stroke="#3c3c8c" stroke-width="0.25" textLength="11.2" lengthAdjust="spacingAndGlyphs">3.6</text>
<line x1="527" y1="417" x2="526" y2="425" stroke="#3c3c8c" stroke-width="0.9"/>
</g></g>
<path d="M70.9,8.9 H542.4 V439.4 H70.9 Z M306.6,8.9 V439.4 M70.9,223.7 H542.4" fill="none" stroke="#000" stroke-width="1.8"/>
<line x1="70.9" y1="439.4" x2="70.9" y2="446.4" stroke="#000" stroke-width="1.8"/>
<line x1="306.6" y1="439.4" x2="306.6" y2="446.4" stroke="#000" stroke-width="1.8"/>
<line x1="542.4" y1="439.4" x2="542.4" y2="446.4" stroke="#000" stroke-width="1.8"/>
<g clip-path="url(#confa)"><path d="M70.9,8.9 H542.4 V439.4 H70.9 Z M306.6,8.9 V439.4 M70.9,223.7 H542.4" fill="none" stroke="#5a3a22" stroke-width="1.8"/></g>
<g clip-path="url(#confb)"><path d="M70.9,8.9 H542.4 V439.4 H70.9 Z M306.6,8.9 V439.4 M70.9,223.7 H542.4" fill="none" stroke="#7a1a30" stroke-width="1.8"/></g>
<g clip-path="url(#confc)"><path d="M70.9,8.9 H542.4 V439.4 H70.9 Z M306.6,8.9 V439.4 M70.9,223.7 H542.4" fill="none" stroke="#6a2a50" stroke-width="1.8"/></g>
<g clip-path="url(#confd)"><path d="M70.9,8.9 H542.4 V439.4 H70.9 Z M306.6,8.9 V439.4 M70.9,223.7 H542.4" fill="none" stroke="#3c3c8c" stroke-width="1.8"/></g>
<line x1="85.55" y1="439.4" x2="85.55" y2="446.4" stroke="#000" stroke-width="1.6"/>
<text x="85.55" y="456.8" font-size="9.3" font-weight="bold" text-anchor="middle">0.5</text>
<line x1="100.29" y1="439.4" x2="100.29" y2="446.4" stroke="#000" stroke-width="1.6"/>
<text x="100.29" y="456.8" font-size="9.3" font-weight="bold" text-anchor="middle">1</text>
<line x1="115.03" y1="439.4" x2="115.03" y2="446.4" stroke="#000" stroke-width="1.6"/>
<text x="115.03" y="456.8" font-size="9.3" font-weight="bold" text-anchor="middle">2</text>
<line x1="129.77" y1="439.4" x2="129.77" y2="446.4" stroke="#000" stroke-width="1.6"/>
<text x="129.77" y="456.8" font-size="9.3" font-weight="bold" text-anchor="middle">4</text>
<line x1="144.51" y1="439.4" x2="144.51" y2="446.4" stroke="#000" stroke-width="1.6"/>
<text x="144.51" y="456.8" font-size="9.3" font-weight="bold" text-anchor="middle">8</text>
<line x1="159.25" y1="439.4" x2="159.25" y2="446.4" stroke="#000" stroke-width="1.6"/>
<text x="159.25" y="456.8" font-size="9.3" font-weight="bold" text-anchor="middle">13</text>
<line x1="173.99" y1="439.4" x2="173.99" y2="446.4" stroke="#000" stroke-width="1.6"/>
<text x="173.99" y="456.8" font-size="9.3" font-weight="bold" text-anchor="middle">19</text>
<line x1="188.73" y1="439.4" x2="188.73" y2="446.4" stroke="#000" stroke-width="1.6"/>
<text x="188.73" y="456.8" font-size="9.3" font-weight="bold" text-anchor="middle">26</text>
<line x1="203.47" y1="439.4" x2="203.47" y2="446.4" stroke="#000" stroke-width="1.6"/>
<text x="203.47" y="456.8" font-size="9.3" font-weight="bold" text-anchor="middle">33</text>
<line x1="218.21" y1="439.4" x2="218.21" y2="446.4" stroke="#000" stroke-width="1.6"/>
<text x="218.21" y="456.8" font-size="9.3" font-weight="bold" text-anchor="middle">43</text>
<line x1="232.95" y1="439.4" x2="232.95" y2="446.4" stroke="#000" stroke-width="1.6"/>
<text x="232.95" y="456.8" font-size="9.3" font-weight="bold" text-anchor="middle">53</text>
<line x1="247.69" y1="439.4" x2="247.69" y2="446.4" stroke="#000" stroke-width="1.6"/>
<text x="247.69" y="456.8" font-size="9.3" font-weight="bold" text-anchor="middle">63</text>
<line x1="262.43" y1="439.4" x2="262.43" y2="446.4" stroke="#000" stroke-width="1.6"/>
<text x="262.43" y="456.8" font-size="9.3" font-weight="bold" text-anchor="middle">83</text>
<line x1="277.17" y1="439.4" x2="277.17" y2="446.4" stroke="#000" stroke-width="1.6"/>
<text x="277.17" y="456.8" font-size="9.3" font-weight="bold" text-anchor="middle">103</text>
<line x1="291.91" y1="439.4" x2="291.91" y2="446.4" stroke="#000" stroke-width="1.6"/>
<text x="291.91" y="456.8" font-size="9.3" font-weight="bold" text-anchor="middle">123</text>
<line x1="321.25" y1="439.4" x2="321.25" y2="446.4" stroke="#000" stroke-width="1.6"/>
<text x="321.25" y="456.8" font-size="9.3" font-weight="bold" text-anchor="middle">0.5</text>
<line x1="335.99" y1="439.4" x2="335.99" y2="446.4" stroke="#000" stroke-width="1.6"/>
<text x="335.99" y="456.8" font-size="9.3" font-weight="bold" text-anchor="middle">1</text>
<line x1="350.73" y1="439.4" x2="350.73" y2="446.4" stroke="#000" stroke-width="1.6"/>
<text x="350.73" y="456.8" font-size="9.3" font-weight="bold" text-anchor="middle">2</text>
<line x1="365.47" y1="439.4" x2="365.47" y2="446.4" stroke="#000" stroke-width="1.6"/>
<text x="365.47" y="456.8" font-size="9.3" font-weight="bold" text-anchor="middle">4</text>
<line x1="380.21" y1="439.4" x2="380.21" y2="446.4" stroke="#000" stroke-width="1.6"/>
<text x="380.21" y="456.8" font-size="9.3" font-weight="bold" text-anchor="middle">8</text>
<line x1="394.95" y1="439.4" x2="394.95" y2="446.4" stroke="#000" stroke-width="1.6"/>
<text x="394.95" y="456.8" font-size="9.3" font-weight="bold" text-anchor="middle">13</text>
<line x1="409.69" y1="439.4" x2="409.69" y2="446.4" stroke="#000" stroke-width="1.6"/>
<text x="409.69" y="456.8" font-size="9.3" font-weight="bold" text-anchor="middle">19</text>
<line x1="424.43" y1="439.4" x2="424.43" y2="446.4" stroke="#000" stroke-width="1.6"/>
<text x="424.43" y="456.8" font-size="9.3" font-weight="bold" text-anchor="middle">26</text>
<line x1="439.17" y1="439.4" x2="439.17" y2="446.4" stroke="#000" stroke-width="1.6"/>
<text x="439.17" y="456.8" font-size="9.3" font-weight="bold" text-anchor="middle">33</text>
<line x1="453.91" y1="439.4" x2="453.91" y2="446.4" stroke="#000" stroke-width="1.6"/>
<text x="453.91" y="456.8" font-size="9.3" font-weight="bold" text-anchor="middle">43</text>
<line x1="468.65" y1="439.4" x2="468.65" y2="446.4" stroke="#000" stroke-width="1.6"/>
<text x="468.65" y="456.8" font-size="9.3" font-weight="bold" text-anchor="middle">53</text>
<line x1="483.39" y1="439.4" x2="483.39" y2="446.4" stroke="#000" stroke-width="1.6"/>
<text x="483.39" y="456.8" font-size="9.3" font-weight="bold" text-anchor="middle">63</text>
<line x1="498.13" y1="439.4" x2="498.13" y2="446.4" stroke="#000" stroke-width="1.6"/>
<text x="498.13" y="456.8" font-size="9.3" font-weight="bold" text-anchor="middle">83</text>
<line x1="512.87" y1="439.4" x2="512.87" y2="446.4" stroke="#000" stroke-width="1.6"/>
<text x="512.87" y="456.8" font-size="9.3" font-weight="bold" text-anchor="middle">103</text>
<line x1="527.61" y1="439.4" x2="527.61" y2="446.4" stroke="#000" stroke-width="1.6"/>
<text x="527.61" y="456.8" font-size="9.3" font-weight="bold" text-anchor="middle">123</text>
<line x1="63" y1="196.80" x2="70.9" y2="196.80" stroke="#000" stroke-width="1.8"/>
<text x="61" y="201.60" font-size="14.5" font-weight="bold" text-anchor="end">0</text>
<line x1="63" y1="143.10" x2="70.9" y2="143.10" stroke="#000" stroke-width="1.8"/>
<text x="61" y="147.90" font-size="14.5" font-weight="bold" text-anchor="end">100</text>
<line x1="63" y1="89.40" x2="70.9" y2="89.40" stroke="#000" stroke-width="1.8"/>
<text x="61" y="94.20" font-size="14.5" font-weight="bold" text-anchor="end">200</text>
<line x1="63" y1="35.70" x2="70.9" y2="35.70" stroke="#000" stroke-width="1.8"/>
<text x="61" y="40.50" font-size="14.5" font-weight="bold" text-anchor="end">300</text>
<line x1="63" y1="412.00" x2="70.9" y2="412.00" stroke="#000" stroke-width="1.8"/>
<text x="61" y="416.80" font-size="14.5" font-weight="bold" text-anchor="end">0</text>
<line x1="63" y1="358.30" x2="70.9" y2="358.30" stroke="#000" stroke-width="1.8"/>
<text x="61" y="363.10" font-size="14.5" font-weight="bold" text-anchor="end">100</text>
<line x1="63" y1="304.60" x2="70.9" y2="304.60" stroke="#000" stroke-width="1.8"/>
<text x="61" y="309.40" font-size="14.5" font-weight="bold" text-anchor="end">200</text>
<line x1="63" y1="250.90" x2="70.9" y2="250.90" stroke="#000" stroke-width="1.8"/>
<text x="61" y="255.70" font-size="14.5" font-weight="bold" text-anchor="end">300</text>
<text x="72.7" y="23.5" font-size="16" font-weight="bold" textLength="17.5" lengthAdjust="spacingAndGlyphs">(a)</text>
<text x="125.3" y="21.30" font-size="11" font-weight="bold" textLength="178.9" lengthAdjust="spacingAndGlyphs">ln<tspan font-style="italic">K</tspan><tspan font-size="7.5" dy="2.5">CT</tspan><tspan dy="-2.5">=-17.33(±3.90)</tspan><tspan font-size="6.5" dy="2.5">Φ1/2</tspan><tspan dy="-2.5">+198.36(±35.45)</tspan></text>
<text x="125.6" y="38.90" font-size="12.5" font-weight="bold" textLength="48.4" lengthAdjust="spacingAndGlyphs"><tspan font-style="italic">R</tspan><tspan font-size="8" dy="-4.5">2</tspan><tspan dy="4.5">=0.603</tspan></text>
<rect x="180.10" y="39.00" width="24" height="11.5" fill="#fbc890" stroke="#f5b070" stroke-width="1.2"/>
<rect x="180.10" y="51.30" width="24" height="12.2" fill="#fdefe2"/>
<text x="207.10" y="47.90" font-size="10.5" fill="#222" textLength="96" lengthAdjust="spacingAndGlyphs">95% Confidence Band</text>
<text x="207.10" y="60.90" font-size="10.5" fill="#222" textLength="91" lengthAdjust="spacingAndGlyphs">95% Prediction Band</text>
<text x="310.5" y="24.2" font-size="16" font-weight="bold" textLength="18.2" lengthAdjust="spacingAndGlyphs">(b)</text>
<text x="360.9" y="21.30" font-size="11" font-weight="bold" textLength="173.1" lengthAdjust="spacingAndGlyphs">ln<tspan font-style="italic">K</tspan><tspan font-size="7.5" dy="2.5">CM</tspan><tspan dy="-2.5">=-8.76(±1.97)</tspan><tspan font-size="6.5" dy="2.5">Φ1/2</tspan><tspan dy="-2.5">+107.39(±17.89)</tspan></text>
<text x="360.0" y="38.90" font-size="12.5" font-weight="bold" textLength="49.0" lengthAdjust="spacingAndGlyphs"><tspan font-style="italic">R</tspan><tspan font-size="8" dy="-4.5">2</tspan><tspan dy="4.5">=0.604</tspan></text>
<rect x="415.80" y="39.00" width="24" height="11.5" fill="#f8a8a8" stroke="#f08080" stroke-width="1.2"/>
<rect x="415.80" y="51.30" width="24" height="12.2" fill="#fde3e3"/>
<text x="442.80" y="47.90" font-size="10.5" fill="#222" textLength="96" lengthAdjust="spacingAndGlyphs">95% Confidence Band</text>
<text x="442.80" y="60.90" font-size="10.5" fill="#222" textLength="91" lengthAdjust="spacingAndGlyphs">95% Prediction Band</text>
<text x="72.9" y="239.3" font-size="16" font-weight="bold" textLength="17.1" lengthAdjust="spacingAndGlyphs">(c)</text>
<text x="125.3" y="236.10" font-size="11" font-weight="bold" textLength="177.4" lengthAdjust="spacingAndGlyphs">ln<tspan font-style="italic">K</tspan><tspan font-size="7.5" dy="2.5">CD</tspan><tspan dy="-2.5">=-11.01(±2.23)</tspan><tspan font-size="6.5" dy="2.5">Φ1/2</tspan><tspan dy="-2.5">+132.68(±20.28)</tspan></text>
<text x="125.3" y="253.70" font-size="12.5" font-weight="bold" textLength="48.0" lengthAdjust="spacingAndGlyphs"><tspan font-style="italic">R</tspan><tspan font-size="8" dy="-4.5">2</tspan><tspan dy="4.5">=0.652</tspan></text>
<rect x="180.10" y="253.80" width="24" height="11.5" fill="#f0a8cc" stroke="#e890b8" stroke-width="1.2"/>
<rect x="180.10" y="266.10" width="24" height="12.2" fill="#fbe1ee"/>
<text x="207.10" y="262.70" font-size="10.5" fill="#222" textLength="96" lengthAdjust="spacingAndGlyphs">95% Confidence Band</text>
<text x="207.10" y="275.70" font-size="10.5" fill="#222" textLength="91" lengthAdjust="spacingAndGlyphs">95% Prediction Band</text>
<text x="310.0" y="239.3" font-size="16" font-weight="bold" textLength="18.5" lengthAdjust="spacingAndGlyphs">(d)</text>
<text x="358.9" y="236.10" font-size="11" font-weight="bold" textLength="179.5" lengthAdjust="spacingAndGlyphs">ln<tspan font-style="italic">K</tspan><tspan font-size="7.5" dy="2.5">CM</tspan><tspan dy="-2.5">=-13.81(±2.91)</tspan><tspan font-size="6.5" dy="2.5">Φ1/2</tspan><tspan dy="-2.5">+171.72(±26.42)</tspan></text>
<text x="358.9" y="253.70" font-size="12.5" font-weight="bold" textLength="48.7" lengthAdjust="spacingAndGlyphs"><tspan font-style="italic">R</tspan><tspan font-size="8" dy="-4.5">2</tspan><tspan dy="4.5">=0.635</tspan></text>
<rect x="415.00" y="253.80" width="24" height="11.5" fill="#9c9cf4" stroke="#7c7ce8" stroke-width="1.2"/>
<rect x="415.00" y="266.10" width="24" height="12.2" fill="#e2e2fb"/>
<text x="442.00" y="262.70" font-size="10.5" fill="#222" textLength="96" lengthAdjust="spacingAndGlyphs">95% Confidence Band</text>
<text x="442.00" y="275.70" font-size="10.5" fill="#222" textLength="91" lengthAdjust="spacingAndGlyphs">95% Prediction Band</text>
<text x="277.7" y="481.5" font-size="14" textLength="47.9" lengthAdjust="spacingAndGlyphs">Time (d)</text>
<text transform="translate(21.9,339.7) rotate(-90)" x="0" y="0" font-size="15" textLength="185.5" lengthAdjust="spacingAndGlyphs">CO<tspan font-size="10" dy="3">2</tspan><tspan dy="-3">-C release rate (mg kg</tspan><tspan font-size="10" dy="-6">−1</tspan><tspan dy="6"> d</tspan><tspan font-size="10" dy="-6">−1</tspan><tspan dy="6">)</tspan></text>
</svg></body></html>
